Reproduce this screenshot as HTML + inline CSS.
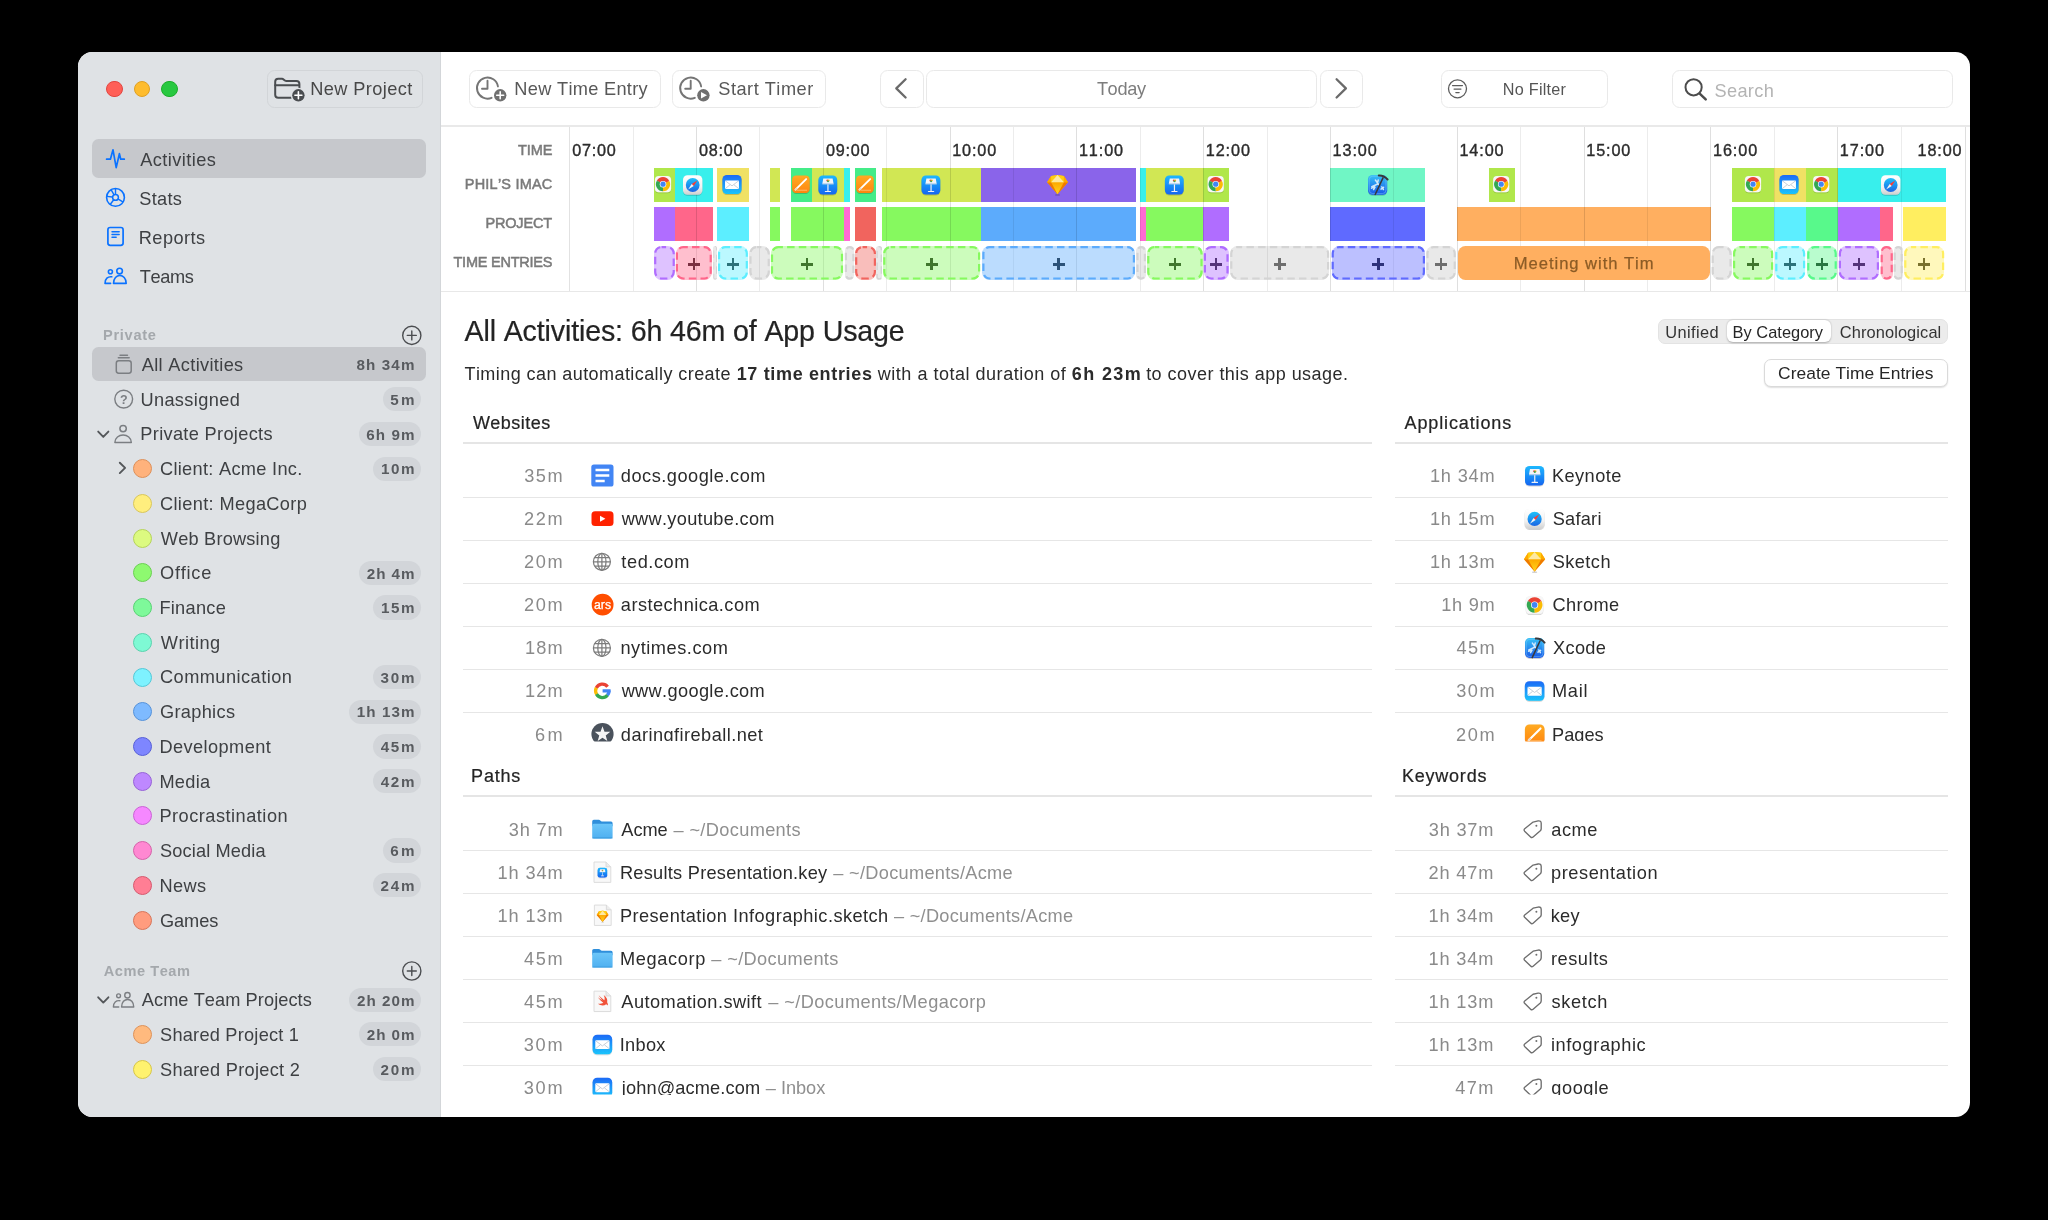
<!DOCTYPE html>
<html lang="en"><head><meta charset="utf-8"><title>Timing</title>
<style>
html,body{margin:0;padding:0;background:#000;}
body{width:2048px;height:1220px;overflow:hidden;position:relative;font-family:"Liberation Sans",sans-serif;font-kerning:none;}
#win{position:absolute;left:77.8px;top:52.4px;width:1892.5px;height:1064.6px;border-radius:14.5px;overflow:hidden;background:#fff;}
#pg{position:absolute;left:-77.8px;top:-52.4px;width:2048px;height:1220px;will-change:transform;}
.t{position:absolute;white-space:nowrap;margin:0;padding:0;}
.r{position:absolute;}
.btn{position:absolute;box-sizing:border-box;border:1.5px solid #e9e9e9;border-radius:7.5px;background:#fff;}
svg{position:absolute;overflow:visible;}
.badge{position:absolute;border-radius:13px;background:#d2d5d9;}
.dot{position:absolute;box-sizing:border-box;border-radius:50%;width:19px;height:19px;border:1.7px solid;}
</style></head><body><div id="win"><div id="pg">
<div class="r" style="left:78.00px;top:52.00px;width:363.00px;height:1066.00px;background:#dfe2e5;"></div>
<div class="r" style="left:440.40px;top:52.00px;width:1.00px;height:1066.00px;background:#d3d6d9;"></div>
<div class="r" style="left:105.8px;top:80.6px;width:16.8px;height:16.8px;border-radius:50%;background:#ff5f57;box-sizing:border-box;border:1px solid #e24640;"></div>
<div class="r" style="left:133.6px;top:80.6px;width:16.8px;height:16.8px;border-radius:50%;background:#febc2e;box-sizing:border-box;border:1px solid #dfa023;"></div>
<div class="r" style="left:161.4px;top:80.6px;width:16.8px;height:16.8px;border-radius:50%;background:#28c840;box-sizing:border-box;border:1px solid #1dad2b;"></div>
<div class="btn" style="left:267px;top:70px;width:156px;height:38px;background:transparent;border-color:#d2d5d8;"></div>
<div class="t" style="left:310.21px;top:71.10px;font-size:18.2px;line-height:36px;color:#474747;letter-spacing:0.412px;">New Project</div>
<div class="r" style="left:92.00px;top:139.00px;width:334.00px;height:39.00px;background:#c6c8cc;border-radius:6.5px;"></div>
<div class="t" style="left:140.16px;top:141.50px;font-size:18.2px;line-height:36px;color:#3e4043;letter-spacing:0.432px;">Activities</div>
<div class="t" style="left:139.37px;top:180.50px;font-size:18.2px;line-height:36px;color:#3e4043;letter-spacing:0.277px;">Stats</div>
<div class="t" style="left:138.71px;top:219.50px;font-size:18.2px;line-height:36px;color:#3e4043;letter-spacing:0.471px;">Reports</div>
<div class="t" style="left:139.79px;top:258.50px;font-size:18.2px;line-height:36px;color:#3e4043;letter-spacing:-0.389px;">Teams</div>
<div class="t" style="left:103.02px;top:319.30px;font-size:14.6px;line-height:32px;color:#a4a8ac;letter-spacing:0.713px;font-weight:700;">Private</div>
<div class="t" style="left:103.64px;top:955.10px;font-size:14.6px;line-height:32px;color:#a4a8ac;letter-spacing:0.551px;font-weight:700;">Acme Team</div>
<div class="r" style="left:92.00px;top:346.50px;width:334.00px;height:34.30px;background:#c6c8cc;border-radius:6.5px;"></div>
<div class="t" style="left:141.76px;top:347.00px;font-size:18.2px;line-height:36px;color:#3e4043;letter-spacing:0.339px;">All Activities</div>
<div class="t" style="left:356.52px;top:348.20px;font-size:15.2px;line-height:33px;color:#585b5f;letter-spacing:1.108px;font-weight:700;">8h 34m</div>
<div class="t" style="left:140.40px;top:381.72px;font-size:18.2px;line-height:36px;color:#3e4043;letter-spacing:0.373px;">Unassigned</div>
<div class="badge" style="left:382.8px;top:387.0px;width:38.7px;height:24.4px;"></div>
<div class="t" style="left:390.33px;top:382.92px;font-size:15.2px;line-height:33px;color:#585b5f;letter-spacing:2.141px;font-weight:700;">5m</div>
<div class="t" style="left:140.31px;top:416.44px;font-size:18.2px;line-height:36px;color:#3e4043;letter-spacing:0.327px;">Private Projects</div>
<div class="badge" style="left:359.4px;top:421.7px;width:62.1px;height:24.4px;"></div>
<div class="t" style="left:366.34px;top:417.64px;font-size:15.2px;line-height:33px;color:#585b5f;letter-spacing:1.042px;font-weight:700;">6h 9m</div>
<div class="t" style="left:159.98px;top:451.16px;font-size:18.2px;line-height:36px;color:#3e4043;letter-spacing:0.302px;">Client: Acme Inc.</div>
<div class="dot" style="left:133.0px;top:459.2px;background:#ffb27c;border-color:#de9059;"></div>
<div class="badge" style="left:373.2px;top:456.5px;width:48.3px;height:24.4px;"></div>
<div class="t" style="left:380.94px;top:452.36px;font-size:15.2px;line-height:33px;color:#585b5f;letter-spacing:1.539px;font-weight:700;">10m</div>
<div class="t" style="left:159.98px;top:485.88px;font-size:18.2px;line-height:36px;color:#3e4043;letter-spacing:0.358px;">Client: MegaCorp</div>
<div class="dot" style="left:133.0px;top:493.9px;background:#ffee7e;border-color:#dac759;"></div>
<div class="t" style="left:160.82px;top:520.60px;font-size:18.2px;line-height:36px;color:#3e4043;letter-spacing:0.202px;">Web Browsing</div>
<div class="dot" style="left:133.0px;top:528.6px;background:#dcfa80;border-color:#b6d459;"></div>
<div class="t" style="left:160.04px;top:555.32px;font-size:18.2px;line-height:36px;color:#3e4043;letter-spacing:0.747px;">Office</div>
<div class="dot" style="left:133.0px;top:563.3px;background:#8ef970;border-color:#6ad151;"></div>
<div class="badge" style="left:359.2px;top:560.6px;width:62.3px;height:24.4px;"></div>
<div class="t" style="left:366.87px;top:556.52px;font-size:15.2px;line-height:33px;color:#585b5f;letter-spacing:0.910px;font-weight:700;">2h 4m</div>
<div class="t" style="left:159.41px;top:590.04px;font-size:18.2px;line-height:36px;color:#3e4043;letter-spacing:0.276px;">Finance</div>
<div class="dot" style="left:133.0px;top:598.0px;background:#7ef99a;border-color:#57d373;"></div>
<div class="badge" style="left:373.2px;top:595.3px;width:48.3px;height:24.4px;"></div>
<div class="t" style="left:380.94px;top:591.24px;font-size:15.2px;line-height:33px;color:#585b5f;letter-spacing:1.539px;font-weight:700;">15m</div>
<div class="t" style="left:160.82px;top:624.76px;font-size:18.2px;line-height:36px;color:#3e4043;letter-spacing:0.454px;">Writing</div>
<div class="dot" style="left:133.0px;top:632.8px;background:#7ef9d4;border-color:#59d3ae;"></div>
<div class="t" style="left:159.98px;top:659.48px;font-size:18.2px;line-height:36px;color:#3e4043;letter-spacing:0.464px;">Communication</div>
<div class="dot" style="left:133.0px;top:667.5px;background:#7ef2ff;border-color:#53c9d8;"></div>
<div class="badge" style="left:373.2px;top:664.8px;width:48.3px;height:24.4px;"></div>
<div class="t" style="left:380.55px;top:660.68px;font-size:15.2px;line-height:33px;color:#585b5f;letter-spacing:1.735px;font-weight:700;">30m</div>
<div class="t" style="left:159.98px;top:694.20px;font-size:18.2px;line-height:36px;color:#3e4043;letter-spacing:0.321px;">Graphics</div>
<div class="dot" style="left:133.0px;top:702.2px;background:#7ebaff;border-color:#5592da;"></div>
<div class="badge" style="left:349.4px;top:699.5px;width:72.1px;height:24.4px;"></div>
<div class="t" style="left:356.84px;top:695.40px;font-size:15.2px;line-height:33px;color:#585b5f;letter-spacing:1.043px;font-weight:700;">1h 13m</div>
<div class="t" style="left:159.41px;top:728.92px;font-size:18.2px;line-height:36px;color:#3e4043;letter-spacing:0.419px;">Development</div>
<div class="dot" style="left:133.0px;top:736.9px;background:#7e86ff;border-color:#575fd8;"></div>
<div class="badge" style="left:373.2px;top:734.2px;width:48.3px;height:24.4px;"></div>
<div class="t" style="left:380.77px;top:730.12px;font-size:15.2px;line-height:33px;color:#585b5f;letter-spacing:1.625px;font-weight:700;">45m</div>
<div class="t" style="left:159.41px;top:763.64px;font-size:18.2px;line-height:36px;color:#3e4043;letter-spacing:0.306px;">Media</div>
<div class="dot" style="left:133.0px;top:771.6px;background:#be88ff;border-color:#9662d8;"></div>
<div class="badge" style="left:373.2px;top:768.9px;width:48.3px;height:24.4px;"></div>
<div class="t" style="left:380.77px;top:764.84px;font-size:15.2px;line-height:33px;color:#585b5f;letter-spacing:1.625px;font-weight:700;">42m</div>
<div class="t" style="left:159.41px;top:798.36px;font-size:18.2px;line-height:36px;color:#3e4043;letter-spacing:0.492px;">Procrastination</div>
<div class="dot" style="left:133.0px;top:806.4px;background:#f688ff;border-color:#cb62d6;"></div>
<div class="t" style="left:160.07px;top:833.08px;font-size:18.2px;line-height:36px;color:#3e4043;letter-spacing:0.130px;">Social Media</div>
<div class="dot" style="left:133.0px;top:841.1px;background:#ff88d2;border-color:#d662a9;"></div>
<div class="badge" style="left:382.8px;top:838.4px;width:38.7px;height:24.4px;"></div>
<div class="t" style="left:390.24px;top:834.28px;font-size:15.2px;line-height:33px;color:#585b5f;letter-spacing:2.230px;font-weight:700;">6m</div>
<div class="t" style="left:159.41px;top:867.80px;font-size:18.2px;line-height:36px;color:#3e4043;letter-spacing:0.381px;">News</div>
<div class="dot" style="left:133.0px;top:875.8px;background:#ff7e94;border-color:#d6596e;"></div>
<div class="badge" style="left:373.2px;top:873.1px;width:48.3px;height:24.4px;"></div>
<div class="t" style="left:380.47px;top:869.00px;font-size:15.2px;line-height:33px;color:#585b5f;letter-spacing:1.774px;font-weight:700;">24m</div>
<div class="t" style="left:159.98px;top:902.52px;font-size:18.2px;line-height:36px;color:#3e4043;letter-spacing:-0.072px;">Games</div>
<div class="dot" style="left:133.0px;top:910.5px;background:#ff9c7e;border-color:#d87559;"></div>
<div class="t" style="left:141.76px;top:982.40px;font-size:18.2px;line-height:36px;color:#3e4043;letter-spacing:0.076px;">Acme Team Projects</div>
<div class="badge" style="left:349.4px;top:987.7px;width:72.1px;height:24.4px;"></div>
<div class="t" style="left:356.97px;top:983.60px;font-size:15.2px;line-height:33px;color:#585b5f;letter-spacing:1.017px;font-weight:700;">2h 20m</div>
<div class="t" style="left:160.07px;top:1016.80px;font-size:18.2px;line-height:36px;color:#3e4043;letter-spacing:0.230px;">Shared Project 1</div>
<div class="dot" style="left:133.0px;top:1024.8px;background:#ffba7e;border-color:#de9259;"></div>
<div class="badge" style="left:359.2px;top:1022.1px;width:62.3px;height:24.4px;"></div>
<div class="t" style="left:366.87px;top:1018.00px;font-size:15.2px;line-height:33px;color:#585b5f;letter-spacing:0.910px;font-weight:700;">2h 0m</div>
<div class="t" style="left:160.07px;top:1051.50px;font-size:18.2px;line-height:36px;color:#3e4043;letter-spacing:0.285px;">Shared Project 2</div>
<div class="dot" style="left:133.0px;top:1059.5px;background:#fff26e;border-color:#d8c748;"></div>
<div class="badge" style="left:373.2px;top:1056.8px;width:48.3px;height:24.4px;"></div>
<div class="t" style="left:380.47px;top:1052.70px;font-size:15.2px;line-height:33px;color:#585b5f;letter-spacing:1.774px;font-weight:700;">20m</div>
<div class="r" style="left:441.40px;top:125.00px;width:1530.60px;height:1.80px;background:#e9e9e9;"></div>
<div class="btn" style="left:469px;top:70px;width:192px;height:38px;"></div>
<div class="t" style="left:514.31px;top:70.90px;font-size:18.2px;line-height:36px;color:#585858;letter-spacing:0.307px;">New Time Entry</div>
<div class="btn" style="left:672px;top:70px;width:154px;height:38px;"></div>
<div class="t" style="left:718.27px;top:70.90px;font-size:18.2px;line-height:36px;color:#585858;letter-spacing:0.503px;">Start Timer</div>
<div class="btn" style="left:880px;top:70px;width:44px;height:38px;"></div>
<div class="btn" style="left:925.5px;top:70px;width:391.5px;height:38px;"></div>
<div class="btn" style="left:1319.5px;top:70px;width:43.5px;height:38px;"></div>
<div class="t" style="left:1096.89px;top:70.90px;font-size:18.2px;line-height:36px;color:#7d7d7d;letter-spacing:-0.360px;">Today</div>
<div class="btn" style="left:1441px;top:70px;width:166.5px;height:38px;"></div>
<div class="t" style="left:1502.87px;top:71.80px;font-size:16.2px;line-height:34px;color:#555;letter-spacing:0.236px;">No Filter</div>
<div class="btn" style="left:1671.5px;top:70px;width:281.5px;height:38px;"></div>
<div class="t" style="left:1714.47px;top:73.00px;font-size:18.2px;line-height:36px;color:#b4b4b4;letter-spacing:0.348px;">Search</div>
<div class="t" style="left:517.97px;top:133.80px;font-size:14.5px;line-height:32px;color:#7a7a7a;letter-spacing:-0.062px;-webkit-text-stroke:0.5px #7a7a7a;">TIME</div>
<div class="t" style="left:464.81px;top:168.10px;font-size:14.5px;line-height:32px;color:#7a7a7a;letter-spacing:0.213px;-webkit-text-stroke:0.5px #7a7a7a;">PHIL’S IMAC</div>
<div class="t" style="left:485.41px;top:207.00px;font-size:14.5px;line-height:32px;color:#7a7a7a;letter-spacing:-0.158px;-webkit-text-stroke:0.5px #7a7a7a;">PROJECT</div>
<div class="t" style="left:453.47px;top:246.00px;font-size:14.5px;line-height:32px;color:#7a7a7a;letter-spacing:-0.229px;-webkit-text-stroke:0.5px #7a7a7a;">TIME ENTRIES</div>
<div class="t" style="left:572.27px;top:133.20px;font-size:16.2px;line-height:34px;color:#2c2c2c;letter-spacing:0.757px;-webkit-text-stroke:0.38px #2c2c2c;">07:00</div>
<div class="t" style="left:699.09px;top:133.20px;font-size:16.2px;line-height:34px;color:#2c2c2c;letter-spacing:0.757px;-webkit-text-stroke:0.38px #2c2c2c;">08:00</div>
<div class="t" style="left:825.91px;top:133.20px;font-size:16.2px;line-height:34px;color:#2c2c2c;letter-spacing:0.757px;-webkit-text-stroke:0.38px #2c2c2c;">09:00</div>
<div class="t" style="left:952.13px;top:133.20px;font-size:16.2px;line-height:34px;color:#2c2c2c;letter-spacing:0.907px;-webkit-text-stroke:0.38px #2c2c2c;">10:00</div>
<div class="t" style="left:1078.95px;top:133.20px;font-size:16.2px;line-height:34px;color:#2c2c2c;letter-spacing:0.907px;-webkit-text-stroke:0.38px #2c2c2c;">11:00</div>
<div class="t" style="left:1205.77px;top:133.20px;font-size:16.2px;line-height:34px;color:#2c2c2c;letter-spacing:0.907px;-webkit-text-stroke:0.38px #2c2c2c;">12:00</div>
<div class="t" style="left:1332.59px;top:133.20px;font-size:16.2px;line-height:34px;color:#2c2c2c;letter-spacing:0.907px;-webkit-text-stroke:0.38px #2c2c2c;">13:00</div>
<div class="t" style="left:1459.41px;top:133.20px;font-size:16.2px;line-height:34px;color:#2c2c2c;letter-spacing:0.907px;-webkit-text-stroke:0.38px #2c2c2c;">14:00</div>
<div class="t" style="left:1586.23px;top:133.20px;font-size:16.2px;line-height:34px;color:#2c2c2c;letter-spacing:0.907px;-webkit-text-stroke:0.38px #2c2c2c;">15:00</div>
<div class="t" style="left:1713.05px;top:133.20px;font-size:16.2px;line-height:34px;color:#2c2c2c;letter-spacing:0.907px;-webkit-text-stroke:0.38px #2c2c2c;">16:00</div>
<div class="t" style="left:1839.87px;top:133.20px;font-size:16.2px;line-height:34px;color:#2c2c2c;letter-spacing:0.907px;-webkit-text-stroke:0.38px #2c2c2c;">17:00</div>
<div class="t" style="left:1917.47px;top:133.20px;font-size:16.2px;line-height:34px;color:#2c2c2c;letter-spacing:0.907px;-webkit-text-stroke:0.38px #2c2c2c;">18:00</div>
<div class="r" style="left:653.70px;top:168.40px;width:21.10px;height:33.30px;background:#b0e74b;"></div>
<div class="r" style="left:674.80px;top:168.40px;width:38.20px;height:33.30px;background:#38efec;"></div>
<div class="r" style="left:717.00px;top:168.40px;width:32.00px;height:33.30px;background:#f0e164;"></div>
<div class="r" style="left:770.20px;top:168.40px;width:10.20px;height:33.30px;background:#d1e754;"></div>
<div class="r" style="left:790.90px;top:168.40px;width:21.10px;height:33.30px;background:#44ec88;"></div>
<div class="r" style="left:812.00px;top:168.40px;width:32.00px;height:33.30px;background:#d1e754;"></div>
<div class="r" style="left:844.00px;top:168.40px;width:6.20px;height:33.30px;background:#38efec;"></div>
<div class="r" style="left:854.50px;top:168.40px;width:21.30px;height:33.30px;background:#44ec88;"></div>
<div class="r" style="left:881.90px;top:168.40px;width:99.40px;height:33.30px;background:#d1e754;"></div>
<div class="r" style="left:981.30px;top:168.40px;width:154.40px;height:33.30px;background:#8a64ea;"></div>
<div class="r" style="left:1139.90px;top:168.40px;width:6.30px;height:33.30px;background:#38efec;"></div>
<div class="r" style="left:1146.20px;top:168.40px;width:56.80px;height:33.30px;background:#d1e754;"></div>
<div class="r" style="left:1203.00px;top:168.40px;width:25.80px;height:33.30px;background:#b0e74b;"></div>
<div class="r" style="left:1330.20px;top:168.40px;width:95.10px;height:33.30px;background:#70f6c5;"></div>
<div class="r" style="left:1488.80px;top:168.40px;width:26.30px;height:33.30px;background:#b0e74b;"></div>
<div class="r" style="left:1731.90px;top:168.40px;width:42.40px;height:33.30px;background:#b0e74b;"></div>
<div class="r" style="left:1774.30px;top:168.40px;width:31.70px;height:33.30px;background:#f0e164;"></div>
<div class="r" style="left:1806.00px;top:168.40px;width:31.50px;height:33.30px;background:#b0e74b;"></div>
<div class="r" style="left:1837.50px;top:168.40px;width:108.20px;height:33.30px;background:#38efec;"></div>
<div class="r" style="left:653.70px;top:207.20px;width:21.10px;height:33.50px;background:#b06dff;"></div>
<div class="r" style="left:674.80px;top:207.20px;width:38.20px;height:33.50px;background:#ff668a;"></div>
<div class="r" style="left:717.00px;top:207.20px;width:32.00px;height:33.50px;background:#5ceeff;"></div>
<div class="r" style="left:770.20px;top:207.20px;width:10.20px;height:33.50px;background:#86f95f;"></div>
<div class="r" style="left:790.90px;top:207.20px;width:53.10px;height:33.50px;background:#86f95f;"></div>
<div class="r" style="left:844.00px;top:207.20px;width:6.20px;height:33.50px;background:#ff6ad4;"></div>
<div class="r" style="left:854.50px;top:207.20px;width:21.30px;height:33.50px;background:#f1645e;"></div>
<div class="r" style="left:881.90px;top:207.20px;width:99.40px;height:33.50px;background:#86f95f;"></div>
<div class="r" style="left:981.30px;top:207.20px;width:154.40px;height:33.50px;background:#5cabfc;"></div>
<div class="r" style="left:1139.90px;top:207.20px;width:6.30px;height:33.50px;background:#ff6ad4;"></div>
<div class="r" style="left:1146.20px;top:207.20px;width:56.80px;height:33.50px;background:#86f95f;"></div>
<div class="r" style="left:1203.00px;top:207.20px;width:25.80px;height:33.50px;background:#b06dff;"></div>
<div class="r" style="left:1330.20px;top:207.20px;width:95.10px;height:33.50px;background:#5f6aff;"></div>
<div class="r" style="left:1457.30px;top:207.20px;width:253.50px;height:33.50px;background:#ffaf60;"></div>
<div class="r" style="left:1731.90px;top:207.20px;width:42.40px;height:33.50px;background:#86f95f;"></div>
<div class="r" style="left:1774.30px;top:207.20px;width:31.70px;height:33.50px;background:#5ceeff;"></div>
<div class="r" style="left:1806.00px;top:207.20px;width:31.50px;height:33.50px;background:#58f98b;"></div>
<div class="r" style="left:1837.50px;top:207.20px;width:42.30px;height:33.50px;background:#b06dff;"></div>
<div class="r" style="left:1879.80px;top:207.20px;width:13.00px;height:33.50px;background:#ff668a;"></div>
<div class="r" style="left:1903.30px;top:207.20px;width:42.40px;height:33.50px;background:#ffee60;"></div>
<div class="r" style="left:569.00px;top:126.70px;width:1.00px;height:164.10px;background:rgba(0,0,0,0.115);"></div>
<div class="r" style="left:633.00px;top:126.70px;width:1.00px;height:164.10px;background:rgba(0,0,0,0.075);"></div>
<div class="r" style="left:696.00px;top:126.70px;width:1.00px;height:164.10px;background:rgba(0,0,0,0.125);"></div>
<div class="r" style="left:759.00px;top:126.70px;width:1.00px;height:164.10px;background:rgba(0,0,0,0.075);"></div>
<div class="r" style="left:823.00px;top:126.70px;width:1.00px;height:164.10px;background:rgba(0,0,0,0.125);"></div>
<div class="r" style="left:886.00px;top:126.70px;width:1.00px;height:164.10px;background:rgba(0,0,0,0.075);"></div>
<div class="r" style="left:950.00px;top:126.70px;width:1.00px;height:164.10px;background:rgba(0,0,0,0.125);"></div>
<div class="r" style="left:1013.00px;top:126.70px;width:1.00px;height:164.10px;background:rgba(0,0,0,0.075);"></div>
<div class="r" style="left:1076.00px;top:126.70px;width:1.00px;height:164.10px;background:rgba(0,0,0,0.125);"></div>
<div class="r" style="left:1140.00px;top:126.70px;width:1.00px;height:164.10px;background:rgba(0,0,0,0.075);"></div>
<div class="r" style="left:1203.00px;top:126.70px;width:1.00px;height:164.10px;background:rgba(0,0,0,0.125);"></div>
<div class="r" style="left:1267.00px;top:126.70px;width:1.00px;height:164.10px;background:rgba(0,0,0,0.075);"></div>
<div class="r" style="left:1330.00px;top:126.70px;width:1.00px;height:164.10px;background:rgba(0,0,0,0.125);"></div>
<div class="r" style="left:1393.00px;top:126.70px;width:1.00px;height:164.10px;background:rgba(0,0,0,0.075);"></div>
<div class="r" style="left:1457.00px;top:126.70px;width:1.00px;height:164.10px;background:rgba(0,0,0,0.125);"></div>
<div class="r" style="left:1520.00px;top:126.70px;width:1.00px;height:164.10px;background:rgba(0,0,0,0.075);"></div>
<div class="r" style="left:1584.00px;top:126.70px;width:1.00px;height:164.10px;background:rgba(0,0,0,0.125);"></div>
<div class="r" style="left:1647.00px;top:126.70px;width:1.00px;height:164.10px;background:rgba(0,0,0,0.075);"></div>
<div class="r" style="left:1710.00px;top:126.70px;width:1.00px;height:164.10px;background:rgba(0,0,0,0.125);"></div>
<div class="r" style="left:1774.00px;top:126.70px;width:1.00px;height:164.10px;background:rgba(0,0,0,0.075);"></div>
<div class="r" style="left:1837.00px;top:126.70px;width:1.00px;height:164.10px;background:rgba(0,0,0,0.125);"></div>
<div class="r" style="left:1901.00px;top:126.70px;width:1.00px;height:164.10px;background:rgba(0,0,0,0.075);"></div>
<div class="r" style="left:1965.00px;top:126.70px;width:1.00px;height:164.10px;background:rgba(0,0,0,0.125);"></div>
<div class="r" style="left:654.1px;top:246.0px;width:20.7px;height:33.6px;background:rgba(176,109,255,0.42);border-radius:7.5px;"></div>
<div class="r" style="left:675.8px;top:246.0px;width:36.0px;height:33.6px;background:rgba(255,102,138,0.42);border-radius:7.5px;"></div>
<div class="r" style="left:687.8px;top:263.1px;width:12px;height:2.6px;background:#7a3042;"></div>
<div class="r" style="left:692.5px;top:258.4px;width:2.6px;height:12px;background:#7a3042;"></div>
<div class="r" style="left:713.3px;top:246.0px;width:3.7px;height:33.6px;background:rgba(0,0,0,0.088);border-radius:1.9px;"></div>
<div class="r" style="left:718.0px;top:246.0px;width:29.9px;height:33.6px;background:rgba(92,238,255,0.42);border-radius:7.5px;"></div>
<div class="r" style="left:727.0px;top:263.1px;width:12px;height:2.6px;background:#2c727a;"></div>
<div class="r" style="left:731.7px;top:258.4px;width:2.6px;height:12px;background:#2c727a;"></div>
<div class="r" style="left:749.4px;top:246.0px;width:20.4px;height:33.6px;background:rgba(0,0,0,0.088);border-radius:7.5px;"></div>
<div class="r" style="left:770.9px;top:246.0px;width:72.2px;height:33.6px;background:rgba(134,249,95,0.42);border-radius:7.5px;"></div>
<div class="r" style="left:801.0px;top:263.1px;width:12px;height:2.6px;background:#40772d;"></div>
<div class="r" style="left:805.7px;top:258.4px;width:2.6px;height:12px;background:#40772d;"></div>
<div class="r" style="left:844.8px;top:246.0px;width:9.7px;height:33.6px;background:rgba(0,0,0,0.088);border-radius:4.9px;"></div>
<div class="r" style="left:855.1px;top:246.0px;width:20.9px;height:33.6px;background:rgba(241,100,94,0.42);border-radius:7.5px;"></div>
<div class="r" style="left:876.4px;top:246.0px;width:5.6px;height:33.6px;background:rgba(0,0,0,0.088);border-radius:2.8px;"></div>
<div class="r" style="left:883.2px;top:246.0px;width:97.0px;height:33.6px;background:rgba(134,249,95,0.42);border-radius:7.5px;"></div>
<div class="r" style="left:925.7px;top:263.1px;width:12px;height:2.6px;background:#40772d;"></div>
<div class="r" style="left:930.4px;top:258.4px;width:2.6px;height:12px;background:#40772d;"></div>
<div class="r" style="left:982.3px;top:246.0px;width:152.7px;height:33.6px;background:rgba(92,171,252,0.42);border-radius:7.5px;"></div>
<div class="r" style="left:1052.7px;top:263.1px;width:12px;height:2.6px;background:#2c5278;"></div>
<div class="r" style="left:1057.4px;top:258.4px;width:2.6px;height:12px;background:#2c5278;"></div>
<div class="r" style="left:1136.4px;top:246.0px;width:9.6px;height:33.6px;background:rgba(0,0,0,0.088);border-radius:4.8px;"></div>
<div class="r" style="left:1147.2px;top:246.0px;width:55.4px;height:33.6px;background:rgba(134,249,95,0.42);border-radius:7.5px;"></div>
<div class="r" style="left:1168.9px;top:263.1px;width:12px;height:2.6px;background:#40772d;"></div>
<div class="r" style="left:1173.6px;top:258.4px;width:2.6px;height:12px;background:#40772d;"></div>
<div class="r" style="left:1203.8px;top:246.0px;width:24.8px;height:33.6px;background:rgba(176,109,255,0.42);border-radius:7.5px;"></div>
<div class="r" style="left:1210.2px;top:263.1px;width:12px;height:2.6px;background:#54347a;"></div>
<div class="r" style="left:1214.9px;top:258.4px;width:2.6px;height:12px;background:#54347a;"></div>
<div class="r" style="left:1230.2px;top:246.0px;width:99.0px;height:33.6px;background:rgba(0,0,0,0.088);border-radius:7.5px;"></div>
<div class="r" style="left:1273.7px;top:263.1px;width:12px;height:2.6px;background:#6e6e6e;"></div>
<div class="r" style="left:1278.4px;top:258.4px;width:2.6px;height:12px;background:#6e6e6e;"></div>
<div class="r" style="left:1331.6px;top:246.0px;width:93.4px;height:33.6px;background:rgba(95,106,255,0.42);border-radius:7.5px;"></div>
<div class="r" style="left:1372.3px;top:263.1px;width:12px;height:2.6px;background:#2d327a;"></div>
<div class="r" style="left:1377.0px;top:258.4px;width:2.6px;height:12px;background:#2d327a;"></div>
<div class="r" style="left:1426.4px;top:246.0px;width:29.4px;height:33.6px;background:rgba(0,0,0,0.088);border-radius:7.5px;"></div>
<div class="r" style="left:1435.1px;top:263.1px;width:12px;height:2.6px;background:#6e6e6e;"></div>
<div class="r" style="left:1439.8px;top:258.4px;width:2.6px;height:12px;background:#6e6e6e;"></div>
<div class="r" style="left:1711.6px;top:246.0px;width:20.0px;height:33.6px;background:rgba(0,0,0,0.088);border-radius:7.5px;"></div>
<div class="r" style="left:1733.0px;top:246.0px;width:40.2px;height:33.6px;background:rgba(134,249,95,0.42);border-radius:7.5px;"></div>
<div class="r" style="left:1747.1px;top:263.1px;width:12px;height:2.6px;background:#40772d;"></div>
<div class="r" style="left:1751.8px;top:258.4px;width:2.6px;height:12px;background:#40772d;"></div>
<div class="r" style="left:1775.2px;top:246.0px;width:30.0px;height:33.6px;background:rgba(92,238,255,0.42);border-radius:7.5px;"></div>
<div class="r" style="left:1784.2px;top:263.1px;width:12px;height:2.6px;background:#2c727a;"></div>
<div class="r" style="left:1788.9px;top:258.4px;width:2.6px;height:12px;background:#2c727a;"></div>
<div class="r" style="left:1807.2px;top:246.0px;width:29.6px;height:33.6px;background:rgba(88,249,139,0.42);border-radius:7.5px;"></div>
<div class="r" style="left:1816.0px;top:263.1px;width:12px;height:2.6px;background:#2a7742;"></div>
<div class="r" style="left:1820.7px;top:258.4px;width:2.6px;height:12px;background:#2a7742;"></div>
<div class="r" style="left:1838.8px;top:246.0px;width:40.2px;height:33.6px;background:rgba(176,109,255,0.42);border-radius:7.5px;"></div>
<div class="r" style="left:1852.9px;top:263.1px;width:12px;height:2.6px;background:#54347a;"></div>
<div class="r" style="left:1857.6px;top:258.4px;width:2.6px;height:12px;background:#54347a;"></div>
<div class="r" style="left:1880.6px;top:246.0px;width:12.2px;height:33.6px;background:rgba(255,102,138,0.42);border-radius:6.1px;"></div>
<div class="r" style="left:1893.6px;top:246.0px;width:9.2px;height:33.6px;background:rgba(0,0,0,0.088);border-radius:4.6px;"></div>
<div class="r" style="left:1904.2px;top:246.0px;width:40.0px;height:33.6px;background:rgba(255,238,96,0.42);border-radius:7.5px;"></div>
<div class="r" style="left:1918.2px;top:263.1px;width:12px;height:2.6px;background:#7a722e;"></div>
<div class="r" style="left:1922.9px;top:258.4px;width:2.6px;height:12px;background:#7a722e;"></div>
<svg style="left:0;top:0;" width="2048" height="1220" viewBox="0 0 2048 1220"><rect x="655.20" y="247.10" width="18.50" height="31.40" rx="6.40" fill="none" stroke="#b06dff" stroke-width="2.2" stroke-dasharray="7.5 4.2" stroke-dashoffset="3"/><rect x="676.90" y="247.10" width="33.80" height="31.40" rx="6.40" fill="none" stroke="#ff668a" stroke-width="2.2" stroke-dasharray="7.5 4.2" stroke-dashoffset="3"/><rect x="713.80" y="246.50" width="2.70" height="32.60" rx="1.35" fill="none" stroke="#d4d4d4" stroke-width="1.0" stroke-dasharray="7.5 4.2" stroke-dashoffset="3"/><rect x="719.10" y="247.10" width="27.70" height="31.40" rx="6.40" fill="none" stroke="#5ceeff" stroke-width="2.2" stroke-dasharray="7.5 4.2" stroke-dashoffset="3"/><rect x="750.50" y="247.10" width="18.20" height="31.40" rx="6.40" fill="none" stroke="#d4d4d4" stroke-width="2.2" stroke-dasharray="7.5 4.2" stroke-dashoffset="3"/><rect x="772.00" y="247.10" width="70.00" height="31.40" rx="6.40" fill="none" stroke="#86f95f" stroke-width="2.2" stroke-dasharray="7.5 4.2" stroke-dashoffset="3"/><rect x="845.90" y="247.10" width="7.50" height="31.40" rx="3.75" fill="none" stroke="#d4d4d4" stroke-width="2.2" stroke-dasharray="7.5 4.2" stroke-dashoffset="3"/><rect x="856.20" y="247.10" width="18.70" height="31.40" rx="6.40" fill="none" stroke="#f1645e" stroke-width="2.2" stroke-dasharray="7.5 4.2" stroke-dashoffset="3"/><rect x="877.10" y="246.70" width="4.20" height="32.20" rx="2.10" fill="none" stroke="#d4d4d4" stroke-width="1.4" stroke-dasharray="7.5 4.2" stroke-dashoffset="3"/><rect x="884.30" y="247.10" width="94.80" height="31.40" rx="6.40" fill="none" stroke="#86f95f" stroke-width="2.2" stroke-dasharray="7.5 4.2" stroke-dashoffset="3"/><rect x="983.40" y="247.10" width="150.50" height="31.40" rx="6.40" fill="none" stroke="#5cabfc" stroke-width="2.2" stroke-dasharray="7.5 4.2" stroke-dashoffset="3"/><rect x="1137.50" y="247.10" width="7.40" height="31.40" rx="3.70" fill="none" stroke="#d4d4d4" stroke-width="2.2" stroke-dasharray="7.5 4.2" stroke-dashoffset="3"/><rect x="1148.30" y="247.10" width="53.20" height="31.40" rx="6.40" fill="none" stroke="#86f95f" stroke-width="2.2" stroke-dasharray="7.5 4.2" stroke-dashoffset="3"/><rect x="1204.90" y="247.10" width="22.60" height="31.40" rx="6.40" fill="none" stroke="#b06dff" stroke-width="2.2" stroke-dasharray="7.5 4.2" stroke-dashoffset="3"/><rect x="1231.30" y="247.10" width="96.80" height="31.40" rx="6.40" fill="none" stroke="#d4d4d4" stroke-width="2.2" stroke-dasharray="7.5 4.2" stroke-dashoffset="3"/><rect x="1332.70" y="247.10" width="91.20" height="31.40" rx="6.40" fill="none" stroke="#5f6aff" stroke-width="2.2" stroke-dasharray="7.5 4.2" stroke-dashoffset="3"/><rect x="1427.50" y="247.10" width="27.20" height="31.40" rx="6.40" fill="none" stroke="#d4d4d4" stroke-width="2.2" stroke-dasharray="7.5 4.2" stroke-dashoffset="3"/><rect x="1712.70" y="247.10" width="17.80" height="31.40" rx="6.40" fill="none" stroke="#d4d4d4" stroke-width="2.2" stroke-dasharray="7.5 4.2" stroke-dashoffset="3"/><rect x="1734.10" y="247.10" width="38.00" height="31.40" rx="6.40" fill="none" stroke="#86f95f" stroke-width="2.2" stroke-dasharray="7.5 4.2" stroke-dashoffset="3"/><rect x="1776.30" y="247.10" width="27.80" height="31.40" rx="6.40" fill="none" stroke="#5ceeff" stroke-width="2.2" stroke-dasharray="7.5 4.2" stroke-dashoffset="3"/><rect x="1808.30" y="247.10" width="27.40" height="31.40" rx="6.40" fill="none" stroke="#58f98b" stroke-width="2.2" stroke-dasharray="7.5 4.2" stroke-dashoffset="3"/><rect x="1839.90" y="247.10" width="38.00" height="31.40" rx="6.40" fill="none" stroke="#b06dff" stroke-width="2.2" stroke-dasharray="7.5 4.2" stroke-dashoffset="3"/><rect x="1881.70" y="247.10" width="10.00" height="31.40" rx="5.00" fill="none" stroke="#ff668a" stroke-width="2.2" stroke-dasharray="7.5 4.2" stroke-dashoffset="3"/><rect x="1894.70" y="247.10" width="7.00" height="31.40" rx="3.50" fill="none" stroke="#d4d4d4" stroke-width="2.2" stroke-dasharray="7.5 4.2" stroke-dashoffset="3"/><rect x="1905.30" y="247.10" width="37.80" height="31.40" rx="6.40" fill="none" stroke="#ffee60" stroke-width="2.2" stroke-dasharray="7.5 4.2" stroke-dashoffset="3"/></svg>
<div class="r" style="left:1458.00px;top:246.00px;width:252.20px;height:33.60px;background:#ffaf60;border-radius:7.5px;"></div>
<div class="t" style="left:1513.84px;top:246.00px;font-size:16.6px;line-height:35px;color:#8c5c26;letter-spacing:0.953px;-webkit-text-stroke:0.25px #8c5c26;">Meeting with Tim</div>
<div class="r" style="left:441.40px;top:290.50px;width:1530.60px;height:1.60px;background:#e8e8e8;"></div>
<div class="t" style="left:464.54px;top:307.00px;font-size:28.6px;line-height:48px;color:#232323;letter-spacing:-0.140px;-webkit-text-stroke:0.22px #232323;">All Activities: 6h 46m of App Usage</div>
<div class="r" style="left:0;top:0;">
<div class="t" style="left:464.50px;top:355.80px;font-size:18.0px;line-height:36px;color:#2b2b2b;letter-spacing:0.430px;">Timing can automatically create</div>
<div class="t" style="left:736.67px;top:355.80px;font-size:18.0px;line-height:36px;color:#2b2b2b;letter-spacing:0.658px;font-weight:700;">17 time entries</div>
<div class="t" style="left:877.83px;top:355.80px;font-size:18.0px;line-height:36px;color:#2b2b2b;letter-spacing:0.515px;">with a total duration of</div>
<div class="t" style="left:1071.84px;top:355.80px;font-size:18.0px;line-height:36px;color:#2b2b2b;letter-spacing:1.368px;font-weight:700;">6h 23m</div>
<div class="t" style="left:1146.13px;top:355.80px;font-size:18.0px;line-height:36px;color:#2b2b2b;letter-spacing:0.469px;">to cover this app usage.</div>
</div>
<div class="r" style="left:1658.2px;top:319px;width:289.8px;height:24.6px;background:#ececec;border-radius:7px;box-sizing:border-box;border:1px solid #e3e3e3;"></div>
<div class="r" style="left:1726.6px;top:320px;width:104.8px;height:22.4px;background:#fff;border-radius:6px;box-shadow:0 0.5px 2px rgba(0,0,0,0.28);"></div>
<div class="t" style="left:1665.23px;top:314.60px;font-size:16.4px;line-height:34px;color:#333;letter-spacing:0.379px;">Unified</div>
<div class="t" style="left:1732.55px;top:314.60px;font-size:16.4px;line-height:34px;color:#262626;letter-spacing:0.024px;">By Category</div>
<div class="t" style="left:1839.77px;top:314.60px;font-size:16.4px;line-height:34px;color:#333;letter-spacing:0.104px;">Chronological</div>
<div class="r" style="left:1763.6px;top:358.6px;width:184.8px;height:28.4px;background:#fff;border-radius:7px;box-sizing:border-box;border:1px solid #dadada;box-shadow:0 1px 1.5px rgba(0,0,0,0.13);"></div>
<div class="t" style="left:1778.12px;top:354.70px;font-size:17.4px;line-height:36px;color:#262626;letter-spacing:0.039px;">Create Time Entries</div>
<div class="t" style="left:472.92px;top:404.90px;font-size:18.0px;line-height:36px;color:#242424;letter-spacing:0.458px;-webkit-text-stroke:0.22px #242424;">Websites</div>
<div class="r" style="left:463.40px;top:442.00px;width:908.40px;height:1.50px;background:#e5e5e5;"></div>
<div class="r" style="left:463px;top:444px;width:908.8px;height:297.4px;overflow:hidden;">
<div class="t" style="left:61.31px;top:14.20px;font-size:18.2px;line-height:36px;color:#8a8a8a;letter-spacing:1.444px;">35m</div>
<div class="t" style="left:157.84px;top:14.20px;font-size:18.2px;line-height:36px;color:#2b2b2b;letter-spacing:0.505px;">docs.google.com</div>
<div class="r" style="left:0.4px;top:53px;width:908.4px;height:1px;background:#e6e6e6;"></div>
<div class="t" style="left:61.08px;top:57.25px;font-size:18.2px;line-height:36px;color:#8a8a8a;letter-spacing:1.555px;">22m</div>
<div class="t" style="left:158.63px;top:57.25px;font-size:18.2px;line-height:36px;color:#2b2b2b;letter-spacing:0.306px;">www.youtube.com</div>
<div class="r" style="left:0.4px;top:96px;width:908.4px;height:1px;background:#e6e6e6;"></div>
<div class="t" style="left:61.08px;top:100.30px;font-size:18.2px;line-height:36px;color:#8a8a8a;letter-spacing:1.555px;">20m</div>
<div class="t" style="left:158.32px;top:100.30px;font-size:18.2px;line-height:36px;color:#2b2b2b;letter-spacing:0.573px;">ted.com</div>
<div class="r" style="left:0.4px;top:139px;width:908.4px;height:1px;background:#e6e6e6;"></div>
<div class="t" style="left:61.08px;top:143.35px;font-size:18.2px;line-height:36px;color:#8a8a8a;letter-spacing:1.555px;">20m</div>
<div class="t" style="left:157.83px;top:143.35px;font-size:18.2px;line-height:36px;color:#2b2b2b;letter-spacing:0.454px;">arstechnica.com</div>
<div class="r" style="left:0.4px;top:182px;width:908.4px;height:1px;background:#e6e6e6;"></div>
<div class="t" style="left:62.01px;top:186.40px;font-size:18.2px;line-height:36px;color:#8a8a8a;letter-spacing:1.091px;">18m</div>
<div class="t" style="left:157.39px;top:186.40px;font-size:18.2px;line-height:36px;color:#2b2b2b;letter-spacing:0.536px;">nytimes.com</div>
<div class="r" style="left:0.4px;top:225px;width:908.4px;height:1px;background:#e6e6e6;"></div>
<div class="t" style="left:62.01px;top:229.45px;font-size:18.2px;line-height:36px;color:#8a8a8a;letter-spacing:1.091px;">12m</div>
<div class="t" style="left:158.63px;top:229.45px;font-size:18.2px;line-height:36px;color:#2b2b2b;letter-spacing:0.353px;">www.google.com</div>
<div class="r" style="left:0.4px;top:268px;width:908.4px;height:1px;background:#e6e6e6;"></div>
<div class="t" style="left:71.88px;top:272.50px;font-size:18.2px;line-height:36px;color:#8a8a8a;letter-spacing:2.441px;">6m</div>
<div class="t" style="left:157.84px;top:272.50px;font-size:18.2px;line-height:36px;color:#2b2b2b;letter-spacing:0.443px;">daringfireball.net</div>
</div>
<div class="t" style="left:1404.56px;top:404.90px;font-size:18.0px;line-height:36px;color:#242424;letter-spacing:0.866px;-webkit-text-stroke:0.22px #242424;">Applications</div>
<div class="r" style="left:1395.40px;top:442.00px;width:552.40px;height:1.50px;background:#e5e5e5;"></div>
<div class="r" style="left:1395px;top:444px;width:552.8px;height:297.4px;overflow:hidden;">
<div class="t" style="left:34.91px;top:14.20px;font-size:18.2px;line-height:36px;color:#8a8a8a;letter-spacing:0.816px;">1h 34m</div>
<div class="t" style="left:157.01px;top:14.20px;font-size:18.2px;line-height:36px;color:#2b2b2b;letter-spacing:0.420px;">Keynote</div>
<div class="r" style="left:0.4px;top:53px;width:552.4px;height:1px;background:#e6e6e6;"></div>
<div class="t" style="left:34.91px;top:57.25px;font-size:18.2px;line-height:36px;color:#8a8a8a;letter-spacing:0.816px;">1h 15m</div>
<div class="t" style="left:157.67px;top:57.25px;font-size:18.2px;line-height:36px;color:#2b2b2b;letter-spacing:0.262px;">Safari</div>
<div class="r" style="left:0.4px;top:96px;width:552.4px;height:1px;background:#e6e6e6;"></div>
<div class="t" style="left:34.91px;top:100.30px;font-size:18.2px;line-height:36px;color:#8a8a8a;letter-spacing:0.816px;">1h 13m</div>
<div class="t" style="left:157.67px;top:100.30px;font-size:18.2px;line-height:36px;color:#2b2b2b;letter-spacing:0.454px;">Sketch</div>
<div class="r" style="left:0.4px;top:139px;width:552.4px;height:1px;background:#e6e6e6;"></div>
<div class="t" style="left:46.31px;top:143.35px;font-size:18.2px;line-height:36px;color:#8a8a8a;letter-spacing:0.701px;">1h 9m</div>
<div class="t" style="left:157.58px;top:143.35px;font-size:18.2px;line-height:36px;color:#2b2b2b;letter-spacing:0.360px;">Chrome</div>
<div class="r" style="left:0.4px;top:182px;width:552.4px;height:1px;background:#e6e6e6;"></div>
<div class="t" style="left:61.48px;top:186.40px;font-size:18.2px;line-height:36px;color:#8a8a8a;letter-spacing:1.406px;">45m</div>
<div class="t" style="left:158.09px;top:186.40px;font-size:18.2px;line-height:36px;color:#2b2b2b;letter-spacing:0.303px;">Xcode</div>
<div class="r" style="left:0.4px;top:225px;width:552.4px;height:1px;background:#e6e6e6;"></div>
<div class="t" style="left:61.21px;top:229.45px;font-size:18.2px;line-height:36px;color:#8a8a8a;letter-spacing:1.544px;">30m</div>
<div class="t" style="left:157.01px;top:229.45px;font-size:18.2px;line-height:36px;color:#2b2b2b;letter-spacing:0.714px;">Mail</div>
<div class="r" style="left:0.4px;top:268px;width:552.4px;height:1px;background:#e6e6e6;"></div>
<div class="t" style="left:60.98px;top:272.50px;font-size:18.2px;line-height:36px;color:#8a8a8a;letter-spacing:1.655px;">20m</div>
<div class="t" style="left:157.01px;top:272.50px;font-size:18.2px;line-height:36px;color:#2b2b2b;letter-spacing:0.011px;">Pages</div>
</div>
<div class="t" style="left:471.12px;top:757.90px;font-size:18.0px;line-height:36px;color:#242424;letter-spacing:0.775px;-webkit-text-stroke:0.22px #242424;">Paths</div>
<div class="r" style="left:463.40px;top:795.00px;width:908.40px;height:1.50px;background:#e5e5e5;"></div>
<div class="r" style="left:463px;top:797px;width:908.8px;height:297.6px;overflow:hidden;">
<div class="t" style="left:45.71px;top:14.65px;font-size:18.2px;line-height:36px;color:#8a8a8a;letter-spacing:0.827px;">3h 7m</div>
<div class="t" style="left:158.36px;top:14.65px;font-size:18.2px;line-height:36px;color:#2b2b2b;letter-spacing:-0.093px;">Acme</div>
<div class="t" style="left:210.50px;top:14.65px;font-size:18.2px;line-height:36px;color:#8f8f8f;letter-spacing:0.354px;">– ~/Documents</div>
<div class="r" style="left:0.4px;top:53px;width:908.4px;height:1px;background:#e6e6e6;"></div>
<div class="t" style="left:34.41px;top:57.70px;font-size:18.2px;line-height:36px;color:#8a8a8a;letter-spacing:0.896px;">1h 34m</div>
<div class="t" style="left:156.91px;top:57.70px;font-size:18.2px;line-height:36px;color:#2b2b2b;letter-spacing:0.266px;">Results Presentation.key</div>
<div class="t" style="left:370.30px;top:57.70px;font-size:18.2px;line-height:36px;color:#8f8f8f;letter-spacing:0.295px;">– ~/Documents/Acme</div>
<div class="r" style="left:0.4px;top:96px;width:908.4px;height:1px;background:#e6e6e6;"></div>
<div class="t" style="left:34.41px;top:100.75px;font-size:18.2px;line-height:36px;color:#8a8a8a;letter-spacing:0.896px;">1h 13m</div>
<div class="t" style="left:156.91px;top:100.75px;font-size:18.2px;line-height:36px;color:#2b2b2b;letter-spacing:0.451px;">Presentation Infographic.sketch</div>
<div class="t" style="left:430.90px;top:100.75px;font-size:18.2px;line-height:36px;color:#8f8f8f;letter-spacing:0.289px;">– ~/Documents/Acme</div>
<div class="r" style="left:0.4px;top:139px;width:908.4px;height:1px;background:#e6e6e6;"></div>
<div class="t" style="left:61.08px;top:143.80px;font-size:18.2px;line-height:36px;color:#8a8a8a;letter-spacing:1.556px;">45m</div>
<div class="t" style="left:156.91px;top:143.80px;font-size:18.2px;line-height:36px;color:#2b2b2b;letter-spacing:0.647px;">Megacorp</div>
<div class="t" style="left:248.30px;top:143.80px;font-size:18.2px;line-height:36px;color:#8f8f8f;letter-spacing:0.354px;">– ~/Documents</div>
<div class="r" style="left:0.4px;top:182px;width:908.4px;height:1px;background:#e6e6e6;"></div>
<div class="t" style="left:61.08px;top:186.85px;font-size:18.2px;line-height:36px;color:#8a8a8a;letter-spacing:1.556px;">45m</div>
<div class="t" style="left:158.36px;top:186.85px;font-size:18.2px;line-height:36px;color:#2b2b2b;letter-spacing:0.456px;">Automation.swift</div>
<div class="t" style="left:305.20px;top:186.85px;font-size:18.2px;line-height:36px;color:#8f8f8f;letter-spacing:0.427px;">– ~/Documents/Megacorp</div>
<div class="r" style="left:0.4px;top:225px;width:908.4px;height:1px;background:#e6e6e6;"></div>
<div class="t" style="left:60.81px;top:229.90px;font-size:18.2px;line-height:36px;color:#8a8a8a;letter-spacing:1.694px;">30m</div>
<div class="t" style="left:156.72px;top:229.90px;font-size:18.2px;line-height:36px;color:#2b2b2b;letter-spacing:0.313px;">Inbox</div>
<div class="r" style="left:0.4px;top:268px;width:908.4px;height:1px;background:#e6e6e6;"></div>
<div class="t" style="left:60.81px;top:272.95px;font-size:18.2px;line-height:36px;color:#8a8a8a;letter-spacing:1.694px;">30m</div>
<div class="t" style="left:158.84px;top:272.95px;font-size:18.2px;line-height:36px;color:#2b2b2b;letter-spacing:0.136px;">john@acme.com</div>
<div class="t" style="left:302.80px;top:272.95px;font-size:18.2px;line-height:36px;color:#8f8f8f;letter-spacing:-0.034px;">– Inbox</div>
</div>
<div class="t" style="left:1401.92px;top:757.90px;font-size:18.0px;line-height:36px;color:#242424;letter-spacing:0.785px;-webkit-text-stroke:0.22px #242424;">Keywords</div>
<div class="r" style="left:1395.40px;top:795.00px;width:552.40px;height:1.50px;background:#e5e5e5;"></div>
<div class="r" style="left:1395px;top:797px;width:552.8px;height:297.6px;overflow:hidden;">
<div class="t" style="left:33.71px;top:14.65px;font-size:18.2px;line-height:36px;color:#8a8a8a;letter-spacing:0.818px;">3h 37m</div>
<div class="t" style="left:156.33px;top:14.65px;font-size:18.2px;line-height:36px;color:#2b2b2b;letter-spacing:0.492px;">acme</div>
<div class="r" style="left:0.4px;top:53px;width:552.4px;height:1px;background:#e6e6e6;"></div>
<div class="t" style="left:33.48px;top:57.70px;font-size:18.2px;line-height:36px;color:#8a8a8a;letter-spacing:0.862px;">2h 47m</div>
<div class="t" style="left:155.93px;top:57.70px;font-size:18.2px;line-height:36px;color:#2b2b2b;letter-spacing:0.589px;">presentation</div>
<div class="r" style="left:0.4px;top:96px;width:552.4px;height:1px;background:#e6e6e6;"></div>
<div class="t" style="left:33.51px;top:100.75px;font-size:18.2px;line-height:36px;color:#8a8a8a;letter-spacing:0.856px;">1h 34m</div>
<div class="t" style="left:155.87px;top:100.75px;font-size:18.2px;line-height:36px;color:#2b2b2b;letter-spacing:0.170px;">key</div>
<div class="r" style="left:0.4px;top:139px;width:552.4px;height:1px;background:#e6e6e6;"></div>
<div class="t" style="left:33.51px;top:143.80px;font-size:18.2px;line-height:36px;color:#8a8a8a;letter-spacing:0.856px;">1h 34m</div>
<div class="t" style="left:155.89px;top:143.80px;font-size:18.2px;line-height:36px;color:#2b2b2b;letter-spacing:0.577px;">results</div>
<div class="r" style="left:0.4px;top:182px;width:552.4px;height:1px;background:#e6e6e6;"></div>
<div class="t" style="left:33.51px;top:186.85px;font-size:18.2px;line-height:36px;color:#8a8a8a;letter-spacing:0.856px;">1h 13m</div>
<div class="t" style="left:156.59px;top:186.85px;font-size:18.2px;line-height:36px;color:#2b2b2b;letter-spacing:0.658px;">sketch</div>
<div class="r" style="left:0.4px;top:225px;width:552.4px;height:1px;background:#e6e6e6;"></div>
<div class="t" style="left:33.51px;top:229.90px;font-size:18.2px;line-height:36px;color:#8a8a8a;letter-spacing:0.856px;">1h 13m</div>
<div class="t" style="left:155.88px;top:229.90px;font-size:18.2px;line-height:36px;color:#2b2b2b;letter-spacing:0.586px;">infographic</div>
<div class="r" style="left:0.4px;top:268px;width:552.4px;height:1px;background:#e6e6e6;"></div>
<div class="t" style="left:60.28px;top:272.95px;font-size:18.2px;line-height:36px;color:#8a8a8a;letter-spacing:1.406px;">47m</div>
<div class="t" style="left:156.34px;top:272.95px;font-size:18.2px;line-height:36px;color:#2b2b2b;letter-spacing:0.544px;">google</div>
</div>
<svg style="left:0;top:0;" width="2048" height="1220" viewBox="0 0 2048 1220"><defs>
<linearGradient id="gMail" x1="0" y1="0" x2="0" y2="1"><stop offset="0" stop-color="#1f6af6"/><stop offset="1" stop-color="#19c4fc"/></linearGradient>
<linearGradient id="gKey" x1="0" y1="0" x2="0" y2="1"><stop offset="0" stop-color="#1fb9ff"/><stop offset="1" stop-color="#1365f0"/></linearGradient>
<linearGradient id="gPages" x1="0" y1="0" x2="0" y2="1"><stop offset="0" stop-color="#ffab22"/><stop offset="1" stop-color="#ff8510"/></linearGradient>
<linearGradient id="gXc" x1="0" y1="0" x2="0" y2="1"><stop offset="0" stop-color="#36c2f6"/><stop offset="1" stop-color="#1a58e8"/></linearGradient>
<linearGradient id="gSafBg" x1="0" y1="0" x2="0" y2="1"><stop offset="0" stop-color="#ffffff"/><stop offset="0.6" stop-color="#f2f2f2"/><stop offset="1" stop-color="#cfcfcf"/></linearGradient>
<linearGradient id="gSaf" x1="0" y1="0" x2="0" y2="1"><stop offset="0" stop-color="#1fc0fb"/><stop offset="1" stop-color="#1a66e4"/></linearGradient>
<linearGradient id="gFold" x1="0" y1="0" x2="0" y2="1"><stop offset="0" stop-color="#6cc6f9"/><stop offset="1" stop-color="#4fb0f0"/></linearGradient>
<linearGradient id="gSkB" x1="0" y1="0" x2="0" y2="1"><stop offset="0" stop-color="#fda700"/><stop offset="1" stop-color="#ffd61e"/></linearGradient>
<filter id="sh" x="-30%" y="-30%" width="160%" height="170%"><feDropShadow dx="0" dy="0.6" stdDeviation="0.7" flood-color="#000" flood-opacity="0.3"/></filter>
<clipPath id="clipA"><rect x="441" y="444" width="1530" height="297.4"/></clipPath>
<clipPath id="clipB"><rect x="441" y="797" width="1530" height="297.6"/></clipPath>
</defs><g fill="none" stroke="#4a4d50" stroke-width="2" stroke-linecap="round" stroke-linejoin="round"><path d="M291 97.7 H278.2 a3 3 0 0 1 -3 -3 V81.8 a3 3 0 0 1 3 -3 h3.8 c1.6 0 2.2 2.2 4.2 2.2 h10.2 a3 3 0 0 1 3 3 v5.6"/><path d="M275.2 85.3 H299"/></g><circle cx="298.4" cy="95.3" r="7.6" fill="#dfe2e5"/><circle cx="298.4" cy="95.3" r="6.2" fill="#4a4d50"/><path d="M294.9 95.3h7M298.4 91.8v7" stroke="#fff" stroke-width="1.6" stroke-linecap="round"/><g fill="none" stroke="#757575" stroke-width="1.9" stroke-linecap="round" stroke-linejoin="round"><path d="M491.62 97.81 A10.55 10.55 0 1 1 497.92 86.45"/><path d="M487.50 80.70 V88.80 H482.00"/></g><circle cx="500.20" cy="95.30" r="7.5" fill="#fff"/><circle cx="500.20" cy="95.30" r="6.2" fill="#707070"/><path d="M496.70 95.30h7M500.20 91.80v7" stroke="#fff" stroke-width="1.55" stroke-linecap="round"/><g fill="none" stroke="#757575" stroke-width="1.9" stroke-linecap="round" stroke-linejoin="round"><path d="M694.82 97.81 A10.55 10.55 0 1 1 701.12 86.45"/><path d="M690.70 80.70 V88.80 H685.20"/></g><circle cx="703.40" cy="95.30" r="7.5" fill="#fff"/><circle cx="703.40" cy="95.30" r="6.2" fill="#707070"/><path d="M701.00 92.00 L707.00 95.30 L701.00 98.60Z" fill="#fff"/><g fill="none" stroke="#6a6a6a" stroke-width="2.3" stroke-linecap="round" stroke-linejoin="round"><path d="M905.6 79.3 L896.3 88.4 L905.6 97.5"/><path d="M1336.6 79.3 L1345.9 88.4 L1336.6 97.5"/></g><g fill="none" stroke="#5c5c5c" stroke-linecap="round"><circle cx="1457.5" cy="88.8" r="9" stroke-width="1.3"/><path d="M1452.6 85.6h9.8M1454.1 89.1h6.8M1455.9 92.6h3.2" stroke-width="1.4"/></g><g fill="none" stroke="#4c4c4c" stroke-linecap="round"><circle cx="1693.6" cy="87.3" r="8.1" stroke-width="2"/><path d="M1699.7 93.6 L1705.7 99.4" stroke-width="2.5"/></g><g fill="none" stroke="#0a72ff" stroke-linecap="round" stroke-linejoin="round"><path d="M106.6 159.2 H110.4 L113 149.8 L116.2 167.6 L119.4 153.7 L120.7 159.2 H124.3" stroke-width="1.7"/><circle cx="115.5" cy="197.4" r="8.9" stroke-width="1.6"/><circle cx="115.5" cy="197.4" r="2.9" stroke-width="1.5"/><path d="M115.50 194.20 L115.50 188.80" stroke-width="1.4"/><path d="M113.90 194.63 L111.20 189.95" stroke-width="1.4"/><path d="M112.32 197.01 L106.96 196.35" stroke-width="1.4"/><path d="M113.57 199.96 L110.32 204.27" stroke-width="1.4"/><path d="M118.24 199.05 L122.87 201.83" stroke-width="1.4"/><rect x="107.9" y="227.5" width="15.2" height="17.8" rx="2.3" stroke-width="1.7"/><path d="M112 231.7h7.2M112 234.5h7.2M112 237.3h4.2" stroke-width="1.4"/><circle cx="119.60" cy="271.10" r="2.80" stroke-width="1.6"/><path d="M113.50 283.40 C113.50 272.80 126.20 272.80 126.20 283.40 Z" stroke-width="1.6"/><circle cx="110.40" cy="271.70" r="2.00" stroke-width="1.6"/><path d="M110.60 283.40 H105.00 C105.00 278.40 107.80 276.40 111.80 276.80" stroke-width="1.6"/></g><g fill="none" stroke="#7b7e82" stroke-linecap="round" stroke-linejoin="round"><rect x="116.3" y="360.8" width="14.9" height="12.4" rx="2.4" stroke-width="1.5"/><path d="M118.3 357.8h10.9M120 355.2h7.5" stroke-width="1.4"/><circle cx="123.7" cy="399.1" r="8.9" stroke-width="1.4"/><circle cx="123.1" cy="428.6" r="3.2" stroke-width="1.5"/><path d="M114.9 442.6 C114.9 432.6 131.3 432.6 131.3 442.6 Z" stroke-width="1.5"/><circle cx="127.42" cy="995.25" r="2.69" stroke-width="1.4"/><path d="M121.56 1007.06 C121.56 996.88 133.75 996.88 133.75 1007.06 Z" stroke-width="1.4"/><circle cx="118.58" cy="995.82" r="1.92" stroke-width="1.4"/><path d="M118.78 1007.06 H113.40 C113.40 1002.26 116.09 1000.34 119.93 1000.72" stroke-width="1.4"/></g><g fill="none" stroke="#54575a" stroke-width="1.9" stroke-linecap="round" stroke-linejoin="round"><path d="M98.2 431.6 L103.3 436.9 L108.4 431.6"/><path d="M98.2 997.3 L103.3 1002.6 L108.4 997.3"/><path d="M119.8 462.7 L125.1 467.9 L119.8 473.1"/></g><g fill="none" stroke="#4b4d50" stroke-width="1.4" stroke-linecap="round"><circle cx="411.8" cy="335.4" r="9.1"/><path d="M407.3 335.4h9M411.8 330.9v9"/></g><g fill="none" stroke="#4b4d50" stroke-width="1.4" stroke-linecap="round"><circle cx="411.8" cy="971.0" r="9.1"/><path d="M407.3 971.0h9M411.8 966.5v9"/></g><g transform="translate(663.00 184.20) scale(1.0)"><rect x="-8.1" y="-8.1" width="16.2" height="16.2" rx="3.8" fill="#f7f7f7" filter="url(#sh)"/><path d="M0 0 L-6.15 -3.55 A7.1 7.1 0 0 1 6.15 -3.55 Z" fill="#ea4335"/><path d="M0 0 L6.15 -3.55 A7.1 7.1 0 0 1 0.00 7.10 Z" fill="#fbbc05"/><path d="M0 0 L0.00 7.10 A7.1 7.1 0 0 1 -6.15 -3.55 Z" fill="#34a853"/><path d="M0 -3.2 H6.34 A7.1 7.1 0 0 0 6.15 -3.55 L0 0Z" fill="#ea4335"/><path d="M2.8 1.6 L-0.4 7.08 A7.1 7.1 0 0 0 0.00 7.10 L0 0Z" fill="#fbbc05"/><path d="M-2.8 1.6 L-5.95 -3.9 A7.1 7.1 0 0 1 -6.15 -3.55 L0 0Z" fill="#34a853"/><circle r="3.25" fill="#fff"/><circle r="2.6" fill="#4285f4"/></g><g transform="translate(1215.70 184.20) scale(1.0)"><rect x="-8.1" y="-8.1" width="16.2" height="16.2" rx="3.8" fill="#f7f7f7" filter="url(#sh)"/><path d="M0 0 L-6.15 -3.55 A7.1 7.1 0 0 1 6.15 -3.55 Z" fill="#ea4335"/><path d="M0 0 L6.15 -3.55 A7.1 7.1 0 0 1 0.00 7.10 Z" fill="#fbbc05"/><path d="M0 0 L0.00 7.10 A7.1 7.1 0 0 1 -6.15 -3.55 Z" fill="#34a853"/><path d="M0 -3.2 H6.34 A7.1 7.1 0 0 0 6.15 -3.55 L0 0Z" fill="#ea4335"/><path d="M2.8 1.6 L-0.4 7.08 A7.1 7.1 0 0 0 0.00 7.10 L0 0Z" fill="#fbbc05"/><path d="M-2.8 1.6 L-5.95 -3.9 A7.1 7.1 0 0 1 -6.15 -3.55 L0 0Z" fill="#34a853"/><circle r="3.25" fill="#fff"/><circle r="2.6" fill="#4285f4"/></g><g transform="translate(1501.20 184.20) scale(1.0)"><rect x="-8.1" y="-8.1" width="16.2" height="16.2" rx="3.8" fill="#f7f7f7" filter="url(#sh)"/><path d="M0 0 L-6.15 -3.55 A7.1 7.1 0 0 1 6.15 -3.55 Z" fill="#ea4335"/><path d="M0 0 L6.15 -3.55 A7.1 7.1 0 0 1 0.00 7.10 Z" fill="#fbbc05"/><path d="M0 0 L0.00 7.10 A7.1 7.1 0 0 1 -6.15 -3.55 Z" fill="#34a853"/><path d="M0 -3.2 H6.34 A7.1 7.1 0 0 0 6.15 -3.55 L0 0Z" fill="#ea4335"/><path d="M2.8 1.6 L-0.4 7.08 A7.1 7.1 0 0 0 0.00 7.10 L0 0Z" fill="#fbbc05"/><path d="M-2.8 1.6 L-5.95 -3.9 A7.1 7.1 0 0 1 -6.15 -3.55 L0 0Z" fill="#34a853"/><circle r="3.25" fill="#fff"/><circle r="2.6" fill="#4285f4"/></g><g transform="translate(1753.00 184.20) scale(1.0)"><rect x="-8.1" y="-8.1" width="16.2" height="16.2" rx="3.8" fill="#f7f7f7" filter="url(#sh)"/><path d="M0 0 L-6.15 -3.55 A7.1 7.1 0 0 1 6.15 -3.55 Z" fill="#ea4335"/><path d="M0 0 L6.15 -3.55 A7.1 7.1 0 0 1 0.00 7.10 Z" fill="#fbbc05"/><path d="M0 0 L0.00 7.10 A7.1 7.1 0 0 1 -6.15 -3.55 Z" fill="#34a853"/><path d="M0 -3.2 H6.34 A7.1 7.1 0 0 0 6.15 -3.55 L0 0Z" fill="#ea4335"/><path d="M2.8 1.6 L-0.4 7.08 A7.1 7.1 0 0 0 0.00 7.10 L0 0Z" fill="#fbbc05"/><path d="M-2.8 1.6 L-5.95 -3.9 A7.1 7.1 0 0 1 -6.15 -3.55 L0 0Z" fill="#34a853"/><circle r="3.25" fill="#fff"/><circle r="2.6" fill="#4285f4"/></g><g transform="translate(1821.20 184.20) scale(1.0)"><rect x="-8.1" y="-8.1" width="16.2" height="16.2" rx="3.8" fill="#f7f7f7" filter="url(#sh)"/><path d="M0 0 L-6.15 -3.55 A7.1 7.1 0 0 1 6.15 -3.55 Z" fill="#ea4335"/><path d="M0 0 L6.15 -3.55 A7.1 7.1 0 0 1 0.00 7.10 Z" fill="#fbbc05"/><path d="M0 0 L0.00 7.10 A7.1 7.1 0 0 1 -6.15 -3.55 Z" fill="#34a853"/><path d="M0 -3.2 H6.34 A7.1 7.1 0 0 0 6.15 -3.55 L0 0Z" fill="#ea4335"/><path d="M2.8 1.6 L-0.4 7.08 A7.1 7.1 0 0 0 0.00 7.10 L0 0Z" fill="#fbbc05"/><path d="M-2.8 1.6 L-5.95 -3.9 A7.1 7.1 0 0 1 -6.15 -3.55 L0 0Z" fill="#34a853"/><circle r="3.25" fill="#fff"/><circle r="2.6" fill="#4285f4"/></g><g transform="translate(692.70 185.00) scale(1.0)"><rect x="-9.7" y="-9.7" width="19.4" height="19.4" rx="4.5" fill="url(#gSafBg)" filter="url(#sh)"/><circle r="6.9" fill="url(#gSaf)"/><path d="M4.6 -4.6 L1.0 1.0 L-1.0 -1.0Z" fill="#ff3b30"/><path d="M-4.6 4.6 L1.0 1.0 L-1.0 -1.0Z" fill="#f4f4f4"/></g><g transform="translate(1890.70 185.00) scale(1.0)"><rect x="-9.7" y="-9.7" width="19.4" height="19.4" rx="4.5" fill="url(#gSafBg)" filter="url(#sh)"/><circle r="6.9" fill="url(#gSaf)"/><path d="M4.6 -4.6 L1.0 1.0 L-1.0 -1.0Z" fill="#ff3b30"/><path d="M-4.6 4.6 L1.0 1.0 L-1.0 -1.0Z" fill="#f4f4f4"/></g><g transform="translate(732.00 184.50) scale(0.98)"><rect x="-9.8" y="-9.8" width="19.6" height="19.6" rx="4.6" fill="url(#gMail)" filter="url(#sh)"/><rect x="-7.1" y="-4.2" width="14.2" height="8.8" rx="1.2" fill="#fff"/><path d="M-6.7 -3.7 L0 1.4 L6.7 -3.7 M-6.7 4.1 L-1.9 0.2 M6.7 4.1 L1.9 0.2" fill="none" stroke="#b9c4d0" stroke-width="0.8"/></g><g transform="translate(1789.00 184.50) scale(0.98)"><rect x="-9.8" y="-9.8" width="19.6" height="19.6" rx="4.6" fill="url(#gMail)" filter="url(#sh)"/><rect x="-7.1" y="-4.2" width="14.2" height="8.8" rx="1.2" fill="#fff"/><path d="M-6.7 -3.7 L0 1.4 L6.7 -3.7 M-6.7 4.1 L-1.9 0.2 M6.7 4.1 L1.9 0.2" fill="none" stroke="#b9c4d0" stroke-width="0.8"/></g><g transform="translate(800.90 184.20) scale(0.99)"><rect x="-8.9" y="-8.9" width="17.8" height="17.8" rx="4.2" fill="url(#gPages)" filter="url(#sh)"/><path d="M-5.4 5.4 L5.3 -5.2" stroke="#fff" stroke-width="1.9" stroke-linecap="round"/><path d="M-5.4 5.4 L-4.2 4.2" stroke="#e8d9c8" stroke-width="1.9" stroke-linecap="round"/><path d="M-4.2 6.1 H6.2" stroke="#ffc57a" stroke-width="0.8"/></g><g transform="translate(864.90 184.20) scale(0.99)"><rect x="-8.9" y="-8.9" width="17.8" height="17.8" rx="4.2" fill="url(#gPages)" filter="url(#sh)"/><path d="M-5.4 5.4 L5.3 -5.2" stroke="#fff" stroke-width="1.9" stroke-linecap="round"/><path d="M-5.4 5.4 L-4.2 4.2" stroke="#e8d9c8" stroke-width="1.9" stroke-linecap="round"/><path d="M-4.2 6.1 H6.2" stroke="#ffc57a" stroke-width="0.8"/></g><g transform="translate(827.80 185.00) scale(0.98)"><rect x="-9.6" y="-9.8" width="19.2" height="19.6" rx="4.6" fill="url(#gKey)" filter="url(#sh)"/><path d="M-4.6 -6.7 H4.9 L5.9 -1.4 H-5.6Z" fill="#f2f4f8"/><path d="M-5.6 -1.4 H5.9 V-0.6 H-5.6Z" fill="#c9d2e0"/><rect x="-0.45" y="-0.6" width="1.2" height="7" fill="#eef1f6"/><rect x="-3.1" y="6" width="6.5" height="1.2" rx="0.5" fill="#eef1f6"/><circle cx="-0.5" cy="-4.6" r="1" fill="#e8453c"/><circle cx="0.9" cy="-4.6" r="1" fill="#f6b21b"/><circle cx="0.2" cy="-3.7" r="1" fill="#3aa757"/></g><g transform="translate(930.90 185.00) scale(0.98)"><rect x="-9.6" y="-9.8" width="19.2" height="19.6" rx="4.6" fill="url(#gKey)" filter="url(#sh)"/><path d="M-4.6 -6.7 H4.9 L5.9 -1.4 H-5.6Z" fill="#f2f4f8"/><path d="M-5.6 -1.4 H5.9 V-0.6 H-5.6Z" fill="#c9d2e0"/><rect x="-0.45" y="-0.6" width="1.2" height="7" fill="#eef1f6"/><rect x="-3.1" y="6" width="6.5" height="1.2" rx="0.5" fill="#eef1f6"/><circle cx="-0.5" cy="-4.6" r="1" fill="#e8453c"/><circle cx="0.9" cy="-4.6" r="1" fill="#f6b21b"/><circle cx="0.2" cy="-3.7" r="1" fill="#3aa757"/></g><g transform="translate(1174.30 185.00) scale(0.98)"><rect x="-9.6" y="-9.8" width="19.2" height="19.6" rx="4.6" fill="url(#gKey)" filter="url(#sh)"/><path d="M-4.6 -6.7 H4.9 L5.9 -1.4 H-5.6Z" fill="#f2f4f8"/><path d="M-5.6 -1.4 H5.9 V-0.6 H-5.6Z" fill="#c9d2e0"/><rect x="-0.45" y="-0.6" width="1.2" height="7" fill="#eef1f6"/><rect x="-3.1" y="6" width="6.5" height="1.2" rx="0.5" fill="#eef1f6"/><circle cx="-0.5" cy="-4.6" r="1" fill="#e8453c"/><circle cx="0.9" cy="-4.6" r="1" fill="#f6b21b"/><circle cx="0.2" cy="-3.7" r="1" fill="#3aa757"/></g><g transform="translate(1057.50 184.60) scale(1.0)"><ellipse cx="0" cy="10.3" rx="2.6" ry="0.9" fill="rgba(0,0,0,0.18)"/><path d="M-6.4 -8.7 L0 -9.6 L6.4 -8.7 L10.4 -2.4 L0 9.6 L-10.4 -2.4Z" fill="#fdb300"/><path d="M-10.4 -2.4 L0 9.6 L10.4 -2.4Z" fill="#ef7a00"/><path d="M-6.4 -2.4 L0 9.6 L6.4 -2.4Z" fill="url(#gSkB)"/><path d="M-6.4 -8.7 L0 -9.6 L6.4 -8.7 L6.4 -2.4 L-6.4 -2.4Z" fill="#ffce12"/><path d="M0 -9.6 L6.4 -2.4 L-6.4 -2.4Z" fill="#fde9a2"/><path d="M-6.4 -8.7 L-6.4 -2.4 L-10.4 -2.4Z M6.4 -8.7 L6.4 -2.4 L10.4 -2.4Z" fill="#fea900"/></g><g transform="translate(1377.60 184.90) scale(1.0)"><rect x="-9.6" y="-9.9" width="19.2" height="19.8" rx="4.6" fill="url(#gXc)" filter="url(#sh)"/><rect x="-8.4" y="-8.7" width="16.8" height="17.4" rx="3.6" fill="none" stroke="#7fcdf9" stroke-width="0.6" opacity="0.8"/><g stroke="#cfe8fb" stroke-width="1.5" stroke-linecap="round" fill="none"><path d="M-5.8 1.9 L-0.4 -0.6 L0.6 -4.9 M-2.2 -4.9 L1.2 -0.2 M-4 4.6 L-2.6 2.2 M-6 3.2 L-3 2 M4.2 2 L5.8 4.6 M3.4 4.2 L6 2.4"/></g><path d="M-2.4 9.6 L5.4 -7.0" stroke="#38383d" stroke-width="1.55" stroke-linecap="round"/><path d="M1.2 -9.4 C4 -9.6 7.6 -8 10 -5.4" stroke="#38383d" stroke-width="2.0" stroke-linecap="round" fill="none"/></g><g clip-path="url(#clipA)"><rect x="591.3" y="464.40" width="22.2" height="22.2" rx="2.6" fill="#4285f4"/><path d="M595.5 470.00h13.8M595.5 475.50h13.8M595.5 481.10h9.2" stroke="#fff" stroke-width="2.5"/><rect x="591.5" y="511.25" width="22" height="14.8" rx="3.6" fill="#ff2200"/><path d="M600 515.65 L605.4 518.65 L600 521.65Z" fill="#fff"/><g fill="none" stroke="#7c7c7c" stroke-width="1.25"><circle cx="601.9" cy="561.80" r="8.5"/><ellipse cx="601.9" cy="561.80" rx="4.1" ry="8.5"/><path d="M601.9 553.30v17M593.4 561.80h17M594.60 557.50h14.6M594.60 566.10h14.6"/></g><circle cx="602.6" cy="604.65" r="10.9" fill="#ff4e00"/><g fill="none" stroke="#7c7c7c" stroke-width="1.25"><circle cx="601.9" cy="647.90" r="8.5"/><ellipse cx="601.9" cy="647.90" rx="4.1" ry="8.5"/><path d="M601.9 639.40v17M593.4 647.90h17M594.60 643.60h14.6M594.60 652.20h14.6"/></g><path d="M596.23 688.02 A6.7 6.7 0 0 1 607.58 686.73" fill="none" stroke="#ea4335" stroke-width="3.3"/><path d="M596.62 694.40 A6.7 6.7 0 0 1 596.33 687.81" fill="none" stroke="#fbbc05" stroke-width="3.3"/><path d="M607.58 694.97 A6.7 6.7 0 0 1 596.50 694.20" fill="none" stroke="#34a853" stroke-width="3.3"/><path d="M609.00 690.62 A6.7 6.7 0 0 1 607.43 695.16" fill="none" stroke="#4285f4" stroke-width="3.3"/><path d="M602.60 690.95h8" stroke="#4285f4" stroke-width="3.2"/><circle cx="602.5" cy="734.10" r="11.1" fill="#4a525c"/><polygon points="602.50,726.20 604.50,731.65 610.30,731.87 605.73,735.45 607.32,741.03 602.50,737.80 597.68,741.03 599.27,735.45 594.70,731.87 600.50,731.65" fill="#f4f4f4"/><g transform="translate(1534.60 475.80) scale(1.0)"><rect x="-9.6" y="-9.8" width="19.2" height="19.6" rx="4.6" fill="url(#gKey)" filter="url(#sh)"/><path d="M-4.6 -6.7 H4.9 L5.9 -1.4 H-5.6Z" fill="#f2f4f8"/><path d="M-5.6 -1.4 H5.9 V-0.6 H-5.6Z" fill="#c9d2e0"/><rect x="-0.45" y="-0.6" width="1.2" height="7" fill="#eef1f6"/><rect x="-3.1" y="6" width="6.5" height="1.2" rx="0.5" fill="#eef1f6"/><circle cx="-0.5" cy="-4.6" r="1" fill="#e8453c"/><circle cx="0.9" cy="-4.6" r="1" fill="#f6b21b"/><circle cx="0.2" cy="-3.7" r="1" fill="#3aa757"/></g><g transform="translate(1534.60 518.95) scale(1.03)"><rect x="-9.7" y="-9.7" width="19.4" height="19.4" rx="4.5" fill="url(#gSafBg)" filter="url(#sh)"/><circle r="6.9" fill="url(#gSaf)"/><path d="M4.6 -4.6 L1.0 1.0 L-1.0 -1.0Z" fill="#ff3b30"/><path d="M-4.6 4.6 L1.0 1.0 L-1.0 -1.0Z" fill="#f4f4f4"/></g><g transform="translate(1534.60 561.70) scale(1.02)"><ellipse cx="0" cy="10.3" rx="2.6" ry="0.9" fill="rgba(0,0,0,0.18)"/><path d="M-6.4 -8.7 L0 -9.6 L6.4 -8.7 L10.4 -2.4 L0 9.6 L-10.4 -2.4Z" fill="#fdb300"/><path d="M-10.4 -2.4 L0 9.6 L10.4 -2.4Z" fill="#ef7a00"/><path d="M-6.4 -2.4 L0 9.6 L6.4 -2.4Z" fill="url(#gSkB)"/><path d="M-6.4 -8.7 L0 -9.6 L6.4 -8.7 L6.4 -2.4 L-6.4 -2.4Z" fill="#ffce12"/><path d="M0 -9.6 L6.4 -2.4 L-6.4 -2.4Z" fill="#fde9a2"/><path d="M-6.4 -8.7 L-6.4 -2.4 L-10.4 -2.4Z M6.4 -8.7 L6.4 -2.4 L10.4 -2.4Z" fill="#fea900"/></g><g transform="translate(1534.60 604.95) scale(1.1)"><rect x="-8.1" y="-8.1" width="16.2" height="16.2" rx="3.8" fill="#f7f7f7" filter="url(#sh)"/><path d="M0 0 L-6.15 -3.55 A7.1 7.1 0 0 1 6.15 -3.55 Z" fill="#ea4335"/><path d="M0 0 L6.15 -3.55 A7.1 7.1 0 0 1 0.00 7.10 Z" fill="#fbbc05"/><path d="M0 0 L0.00 7.10 A7.1 7.1 0 0 1 -6.15 -3.55 Z" fill="#34a853"/><path d="M0 -3.2 H6.34 A7.1 7.1 0 0 0 6.15 -3.55 L0 0Z" fill="#ea4335"/><path d="M2.8 1.6 L-0.4 7.08 A7.1 7.1 0 0 0 0.00 7.10 L0 0Z" fill="#fbbc05"/><path d="M-2.8 1.6 L-5.95 -3.9 A7.1 7.1 0 0 1 -6.15 -3.55 L0 0Z" fill="#34a853"/><circle r="3.25" fill="#fff"/><circle r="2.6" fill="#4285f4"/></g><g transform="translate(1534.60 648.00) scale(1.0)"><rect x="-9.6" y="-9.9" width="19.2" height="19.8" rx="4.6" fill="url(#gXc)" filter="url(#sh)"/><rect x="-8.4" y="-8.7" width="16.8" height="17.4" rx="3.6" fill="none" stroke="#7fcdf9" stroke-width="0.6" opacity="0.8"/><g stroke="#cfe8fb" stroke-width="1.5" stroke-linecap="round" fill="none"><path d="M-5.8 1.9 L-0.4 -0.6 L0.6 -4.9 M-2.2 -4.9 L1.2 -0.2 M-4 4.6 L-2.6 2.2 M-6 3.2 L-3 2 M4.2 2 L5.8 4.6 M3.4 4.2 L6 2.4"/></g><path d="M-2.4 9.6 L5.4 -7.0" stroke="#38383d" stroke-width="1.55" stroke-linecap="round"/><path d="M1.2 -9.4 C4 -9.6 7.6 -8 10 -5.4" stroke="#38383d" stroke-width="2.0" stroke-linecap="round" fill="none"/></g><g transform="translate(1534.60 691.05) scale(1.0)"><rect x="-9.8" y="-9.8" width="19.6" height="19.6" rx="4.6" fill="url(#gMail)" filter="url(#sh)"/><rect x="-7.1" y="-4.2" width="14.2" height="8.8" rx="1.2" fill="#fff"/><path d="M-6.7 -3.7 L0 1.4 L6.7 -3.7 M-6.7 4.1 L-1.9 0.2 M6.7 4.1 L1.9 0.2" fill="none" stroke="#b9c4d0" stroke-width="0.8"/></g><g transform="translate(1534.70 734.20) scale(1.1)"><rect x="-8.9" y="-8.9" width="17.8" height="17.8" rx="4.2" fill="url(#gPages)" filter="url(#sh)"/><path d="M-5.4 5.4 L5.3 -5.2" stroke="#fff" stroke-width="1.9" stroke-linecap="round"/><path d="M-5.4 5.4 L-4.2 4.2" stroke="#e8d9c8" stroke-width="1.9" stroke-linecap="round"/><path d="M-4.2 6.1 H6.2" stroke="#ffc57a" stroke-width="0.8"/></g></g><g clip-path="url(#clipB)"><g transform="translate(602.40 828.85)"><path d="M-10.2 -7.4 a1.6 1.6 0 0 1 1.6 -1.6 h5.0 c1.2 0 1.8 1.7 3.2 1.7 h9 a1.6 1.6 0 0 1 1.6 1.6 v3 h-20.4Z" fill="#2f8fdb"/><rect x="-10.2" y="-5.2" width="20.4" height="14.8" rx="1.7" fill="url(#gFold)"/><rect x="-10.2" y="8.5" width="20.4" height="1.1" rx="0.55" fill="#3f9ee0"/></g><g transform="translate(602.40 872.20)"><path d="M-8.4 -10.2 H3.6 L8.4 -5.4 V10.2 H-8.4Z" fill="#f8f8f8" stroke="#d9d9d9" stroke-width="0.9" stroke-linejoin="round"/><path d="M3.6 -10.2 V-5.4 H8.4" fill="#ececec" stroke="#d4d4d4" stroke-width="0.8" stroke-linejoin="round"/></g><g transform="translate(602.40 872.60) scale(0.5)"><rect x="-9.6" y="-9.8" width="19.2" height="19.6" rx="4.6" fill="url(#gKey)" filter="url(#sh)"/><path d="M-4.6 -6.7 H4.9 L5.9 -1.4 H-5.6Z" fill="#f2f4f8"/><path d="M-5.6 -1.4 H5.9 V-0.6 H-5.6Z" fill="#c9d2e0"/><rect x="-0.45" y="-0.6" width="1.2" height="7" fill="#eef1f6"/><rect x="-3.1" y="6" width="6.5" height="1.2" rx="0.5" fill="#eef1f6"/><circle cx="-0.5" cy="-4.6" r="1" fill="#e8453c"/><circle cx="0.9" cy="-4.6" r="1" fill="#f6b21b"/><circle cx="0.2" cy="-3.7" r="1" fill="#3aa757"/></g><g transform="translate(602.80 915.25)"><path d="M-8.4 -10.2 H3.6 L8.4 -5.4 V10.2 H-8.4Z" fill="#f8f8f8" stroke="#d9d9d9" stroke-width="0.9" stroke-linejoin="round"/><path d="M3.6 -10.2 V-5.4 H8.4" fill="#ececec" stroke="#d4d4d4" stroke-width="0.8" stroke-linejoin="round"/></g><g transform="translate(602.60 916.25) scale(0.57)"><ellipse cx="0" cy="10.3" rx="2.6" ry="0.9" fill="rgba(0,0,0,0.18)"/><path d="M-6.4 -8.7 L0 -9.6 L6.4 -8.7 L10.4 -2.4 L0 9.6 L-10.4 -2.4Z" fill="#fdb300"/><path d="M-10.4 -2.4 L0 9.6 L10.4 -2.4Z" fill="#ef7a00"/><path d="M-6.4 -2.4 L0 9.6 L6.4 -2.4Z" fill="url(#gSkB)"/><path d="M-6.4 -8.7 L0 -9.6 L6.4 -8.7 L6.4 -2.4 L-6.4 -2.4Z" fill="#ffce12"/><path d="M0 -9.6 L6.4 -2.4 L-6.4 -2.4Z" fill="#fde9a2"/><path d="M-6.4 -8.7 L-6.4 -2.4 L-10.4 -2.4Z M6.4 -8.7 L6.4 -2.4 L10.4 -2.4Z" fill="#fea900"/></g><g transform="translate(602.40 958.00)"><path d="M-10.2 -7.4 a1.6 1.6 0 0 1 1.6 -1.6 h5.0 c1.2 0 1.8 1.7 3.2 1.7 h9 a1.6 1.6 0 0 1 1.6 1.6 v3 h-20.4Z" fill="#2f8fdb"/><rect x="-10.2" y="-5.2" width="20.4" height="14.8" rx="1.7" fill="url(#gFold)"/><rect x="-10.2" y="8.5" width="20.4" height="1.1" rx="0.55" fill="#3f9ee0"/></g><g transform="translate(602.40 1001.35)"><path d="M-8.4 -10.2 H3.6 L8.4 -5.4 V10.2 H-8.4Z" fill="#f8f8f8" stroke="#d9d9d9" stroke-width="0.9" stroke-linejoin="round"/><path d="M3.6 -10.2 V-5.4 H8.4" fill="#ececec" stroke="#d4d4d4" stroke-width="0.8" stroke-linejoin="round"/></g><path d="M598.00 1003.75 c2.6 2 6 2.2 8.2 0.4 c0.8 0.4 1.4 1 1.6 1.4 c0.3 -1.3 -0.1 -2.4 -0.7 -3.2 c0.8 -2.6 -0.8 -5.6 -3.4 -7 c1.2 2 1.2 3.8 0.6 4.8 c-1.8 -1.2 -4.2 -3.2 -5.6 -4.8 c1 1.8 2.6 3.8 4.2 5.4 c-1.8 -1 -3.8 -2.4 -5 -3.4 c1.4 2 3.4 4 5.4 5.4 c-1.4 0.8 -3.4 1.2 -5.3 1Z" fill="#f05138"/><g transform="translate(602.40 1044.50) scale(1.0)"><rect x="-9.8" y="-9.8" width="19.6" height="19.6" rx="4.6" fill="url(#gMail)" filter="url(#sh)"/><rect x="-7.1" y="-4.2" width="14.2" height="8.8" rx="1.2" fill="#fff"/><path d="M-6.7 -3.7 L0 1.4 L6.7 -3.7 M-6.7 4.1 L-1.9 0.2 M6.7 4.1 L1.9 0.2" fill="none" stroke="#b9c4d0" stroke-width="0.8"/></g><g transform="translate(602.40 1087.55) scale(1.0)"><rect x="-9.8" y="-9.8" width="19.6" height="19.6" rx="4.6" fill="url(#gMail)" filter="url(#sh)"/><rect x="-7.1" y="-4.2" width="14.2" height="8.8" rx="1.2" fill="#fff"/><path d="M-6.7 -3.7 L0 1.4 L6.7 -3.7 M-6.7 4.1 L-1.9 0.2 M6.7 4.1 L1.9 0.2" fill="none" stroke="#b9c4d0" stroke-width="0.8"/></g><g transform="translate(1523.50 820.05)" fill="none" stroke="#6e6e6e" stroke-width="1.35" stroke-linejoin="round"><path d="M9.6 2.0 L14.6 0.9 Q17.6 0.4 17.7 3.3 L17.7 8.6 Q17.7 9.8 16.8 10.7 L9.6 17.0 Q8.3 18.1 7.1 16.9 L1.1 11.1 Q0 9.9 1.2 8.8 Z"/><circle cx="12.9" cy="5.6" r="1.0" fill="#6e6e6e" stroke="none"/></g><g transform="translate(1523.50 863.10)" fill="none" stroke="#6e6e6e" stroke-width="1.35" stroke-linejoin="round"><path d="M9.6 2.0 L14.6 0.9 Q17.6 0.4 17.7 3.3 L17.7 8.6 Q17.7 9.8 16.8 10.7 L9.6 17.0 Q8.3 18.1 7.1 16.9 L1.1 11.1 Q0 9.9 1.2 8.8 Z"/><circle cx="12.9" cy="5.6" r="1.0" fill="#6e6e6e" stroke="none"/></g><g transform="translate(1523.50 906.15)" fill="none" stroke="#6e6e6e" stroke-width="1.35" stroke-linejoin="round"><path d="M9.6 2.0 L14.6 0.9 Q17.6 0.4 17.7 3.3 L17.7 8.6 Q17.7 9.8 16.8 10.7 L9.6 17.0 Q8.3 18.1 7.1 16.9 L1.1 11.1 Q0 9.9 1.2 8.8 Z"/><circle cx="12.9" cy="5.6" r="1.0" fill="#6e6e6e" stroke="none"/></g><g transform="translate(1523.50 949.20)" fill="none" stroke="#6e6e6e" stroke-width="1.35" stroke-linejoin="round"><path d="M9.6 2.0 L14.6 0.9 Q17.6 0.4 17.7 3.3 L17.7 8.6 Q17.7 9.8 16.8 10.7 L9.6 17.0 Q8.3 18.1 7.1 16.9 L1.1 11.1 Q0 9.9 1.2 8.8 Z"/><circle cx="12.9" cy="5.6" r="1.0" fill="#6e6e6e" stroke="none"/></g><g transform="translate(1523.50 992.25)" fill="none" stroke="#6e6e6e" stroke-width="1.35" stroke-linejoin="round"><path d="M9.6 2.0 L14.6 0.9 Q17.6 0.4 17.7 3.3 L17.7 8.6 Q17.7 9.8 16.8 10.7 L9.6 17.0 Q8.3 18.1 7.1 16.9 L1.1 11.1 Q0 9.9 1.2 8.8 Z"/><circle cx="12.9" cy="5.6" r="1.0" fill="#6e6e6e" stroke="none"/></g><g transform="translate(1523.50 1035.30)" fill="none" stroke="#6e6e6e" stroke-width="1.35" stroke-linejoin="round"><path d="M9.6 2.0 L14.6 0.9 Q17.6 0.4 17.7 3.3 L17.7 8.6 Q17.7 9.8 16.8 10.7 L9.6 17.0 Q8.3 18.1 7.1 16.9 L1.1 11.1 Q0 9.9 1.2 8.8 Z"/><circle cx="12.9" cy="5.6" r="1.0" fill="#6e6e6e" stroke="none"/></g><g transform="translate(1523.50 1078.35)" fill="none" stroke="#6e6e6e" stroke-width="1.35" stroke-linejoin="round"><path d="M9.6 2.0 L14.6 0.9 Q17.6 0.4 17.7 3.3 L17.7 8.6 Q17.7 9.8 16.8 10.7 L9.6 17.0 Q8.3 18.1 7.1 16.9 L1.1 11.1 Q0 9.9 1.2 8.8 Z"/><circle cx="12.9" cy="5.6" r="1.0" fill="#6e6e6e" stroke="none"/></g></g></svg>
<div class="t" style="left:120.01px;top:384.90px;font-size:12.5px;line-height:30px;color:#7b7e82;letter-spacing:0.000px;font-weight:700;">?</div>
<div class="t" style="left:594.02px;top:589.55px;font-size:12.3px;line-height:30px;color:#fff;letter-spacing:0.000px;-webkit-text-stroke:0.25px #fff;">ars</div>
</div></div></body></html>
